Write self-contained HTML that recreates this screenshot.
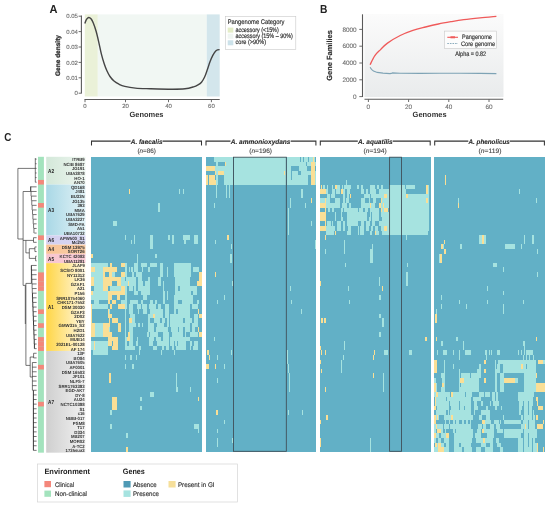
<!DOCTYPE html>
<html><head><meta charset="utf-8"><title>Pangenome figure</title>
<style>
html,body{margin:0;padding:0;background:#fff;}
#fig{width:550px;height:506px;overflow:hidden;position:relative;}
svg{display:block;font-family:'Liberation Sans', Arial, sans-serif;text-rendering:geometricPrecision;}
</style></head>
<body><div id="fig">
<svg width="550" height="506" viewBox="0 0 550 506">
<rect width="550" height="506" fill="#fff"/>
<text x="49.60" y="12.90" font-size="11.6" fill="#222" font-weight="bold" textLength="8.00" lengthAdjust="spacingAndGlyphs">A</text>
<rect x="84.8" y="14.4" width="13" height="82.1" fill="#eaf1d8"/>
<rect x="97.8" y="14.4" width="109" height="82.1" fill="#f1f7f3"/>
<rect x="206.8" y="14.4" width="12.9" height="82.1" fill="#d3e6ec"/>
<line x1="81.4" y1="15.6" x2="81.4" y2="93.6" stroke="#5a5a5a" stroke-width="1.1"/>
<line x1="78.6" y1="16.2" x2="81.4" y2="16.2" stroke="#5a5a5a" stroke-width="0.9"/>
<text x="77.90" y="18.30" font-size="6.0" fill="#6a6a6a" stroke="#6a6a6a" stroke-width="0.1" text-anchor="end">0.05</text>
<line x1="78.6" y1="31.6" x2="81.4" y2="31.6" stroke="#5a5a5a" stroke-width="0.9"/>
<text x="77.90" y="33.70" font-size="6.0" fill="#6a6a6a" stroke="#6a6a6a" stroke-width="0.1" text-anchor="end">0.04</text>
<line x1="78.6" y1="47.0" x2="81.4" y2="47.0" stroke="#5a5a5a" stroke-width="0.9"/>
<text x="77.90" y="49.10" font-size="6.0" fill="#6a6a6a" stroke="#6a6a6a" stroke-width="0.1" text-anchor="end">0.03</text>
<line x1="78.6" y1="62.4" x2="81.4" y2="62.4" stroke="#5a5a5a" stroke-width="0.9"/>
<text x="77.90" y="64.50" font-size="6.0" fill="#6a6a6a" stroke="#6a6a6a" stroke-width="0.1" text-anchor="end">0.02</text>
<line x1="78.6" y1="77.8" x2="81.4" y2="77.8" stroke="#5a5a5a" stroke-width="0.9"/>
<text x="77.90" y="79.90" font-size="6.0" fill="#6a6a6a" stroke="#6a6a6a" stroke-width="0.1" text-anchor="end">0.01</text>
<line x1="78.6" y1="93.2" x2="81.4" y2="93.2" stroke="#5a5a5a" stroke-width="0.9"/>
<text x="77.90" y="95.30" font-size="6.0" fill="#6a6a6a" stroke="#6a6a6a" stroke-width="0.1" text-anchor="end">0</text>
<line x1="84.5" y1="99.5" x2="219.7" y2="99.5" stroke="#5a5a5a" stroke-width="1.1"/>
<line x1="85" y1="99.5" x2="85" y2="102.2" stroke="#5a5a5a" stroke-width="0.9"/>
<text x="85.00" y="108.40" font-size="6.0" fill="#6a6a6a" stroke="#6a6a6a" stroke-width="0.1" text-anchor="middle">0</text>
<line x1="125.5" y1="99.5" x2="125.5" y2="102.2" stroke="#5a5a5a" stroke-width="0.9"/>
<text x="125.50" y="108.40" font-size="6.0" fill="#6a6a6a" stroke="#6a6a6a" stroke-width="0.1" text-anchor="middle">20</text>
<line x1="168.5" y1="99.5" x2="168.5" y2="102.2" stroke="#5a5a5a" stroke-width="0.9"/>
<text x="168.50" y="108.40" font-size="6.0" fill="#6a6a6a" stroke="#6a6a6a" stroke-width="0.1" text-anchor="middle">40</text>
<line x1="211.4" y1="99.5" x2="211.4" y2="102.2" stroke="#5a5a5a" stroke-width="0.9"/>
<text x="211.40" y="108.40" font-size="6.0" fill="#6a6a6a" stroke="#6a6a6a" stroke-width="0.1" text-anchor="middle">60</text>
<text x="146.50" y="117.30" font-size="7.5" fill="#333" text-anchor="middle" font-weight="bold" textLength="34.00" lengthAdjust="spacingAndGlyphs">Genomes</text>
<text x="0" y="0" font-size="6.6" font-weight="bold" fill="#2a2a2a" stroke="#2a2a2a" stroke-width="0.25" text-anchor="middle" textLength="41" lengthAdjust="spacingAndGlyphs" transform="translate(59.6 55.5) rotate(-90)">Gene density</text>
<path d="M84.80,23.60 C85.08,22.90 85.85,20.42 86.50,19.40 C87.15,18.38 87.95,17.60 88.70,17.50 C89.45,17.40 90.23,17.88 91.00,18.80 C91.77,19.72 92.45,20.92 93.30,23.00 C94.15,25.08 95.18,28.08 96.10,31.30 C97.02,34.52 97.92,38.48 98.80,42.30 C99.68,46.12 100.50,50.62 101.40,54.20 C102.30,57.78 103.28,61.03 104.20,63.80 C105.12,66.57 105.93,68.68 106.90,70.80 C107.87,72.92 108.82,74.80 110.00,76.50 C111.18,78.20 112.50,79.72 114.00,81.00 C115.50,82.28 117.20,83.30 119.00,84.20 C120.80,85.10 122.07,85.75 124.80,86.40 C127.53,87.05 131.20,87.72 135.40,88.10 C139.60,88.48 143.95,88.52 150.00,88.70 C156.05,88.88 165.87,89.18 171.70,89.20 C177.53,89.22 181.37,89.18 185.00,88.80 C188.63,88.42 191.33,87.55 193.50,86.90 C195.67,86.25 196.67,85.68 198.00,84.90 C199.33,84.12 200.42,83.47 201.50,82.20 C202.58,80.93 203.53,79.37 204.50,77.30 C205.47,75.23 206.38,72.38 207.30,69.80 C208.22,67.22 209.08,64.20 210.00,61.80 C210.92,59.40 211.88,57.15 212.80,55.40 C213.72,53.65 214.70,52.22 215.50,51.30 C216.30,50.38 216.92,50.18 217.60,49.90 C218.28,49.62 219.27,49.65 219.60,49.60" fill="none" stroke="#454545" stroke-width="1.4"/>
<rect x="225.5" y="16.3" width="70.3" height="33.3" fill="#fff" stroke="#c8c8c8" stroke-width="0.6"/>
<text x="227.70" y="24.00" font-size="6.7" fill="#2a2a2a" stroke="#2a2a2a" stroke-width="0.16" textLength="56.70" lengthAdjust="spacingAndGlyphs">Pangenome Category</text>
<rect x="227.7" y="27.6" width="5.6" height="5" fill="#e4edc8"/>
<rect x="227.7" y="33.7" width="5.6" height="5" fill="#f0f6f2"/>
<rect x="227.7" y="40.3" width="5.6" height="5" fill="#cce2ea"/>
<text x="235.50" y="31.90" font-size="6.4" fill="#2a2a2a" stroke="#2a2a2a" stroke-width="0.16" textLength="43.20" lengthAdjust="spacingAndGlyphs">accessory (&lt;15%)</text>
<text x="235.50" y="38.10" font-size="6.4" fill="#2a2a2a" stroke="#2a2a2a" stroke-width="0.16" textLength="57.40" lengthAdjust="spacingAndGlyphs">accessory (15% – 90%)</text>
<text x="235.50" y="44.20" font-size="6.4" fill="#2a2a2a" stroke="#2a2a2a" stroke-width="0.16" textLength="30.50" lengthAdjust="spacingAndGlyphs">core (&gt;90%)</text>
<text x="320.10" y="13.20" font-size="11.6" fill="#222" font-weight="bold" textLength="7.40" lengthAdjust="spacingAndGlyphs">B</text>
<defs><linearGradient id="bg" x1="0" y1="0" x2="0" y2="1"><stop offset="0" stop-color="#fbfbfb"/><stop offset="1" stop-color="#e9ebec"/></linearGradient></defs>
<rect x="364.5" y="14" width="139" height="83" fill="url(#bg)"/>
<line x1="362.5" y1="14.3" x2="362.5" y2="97" stroke="#5a5a5a" stroke-width="1.1"/>
<line x1="359.3" y1="96.60" x2="362.5" y2="96.60" stroke="#5a5a5a" stroke-width="0.9"/>
<text x="356.60" y="98.80" font-size="6.4" fill="#6a6a6a" stroke="#6a6a6a" stroke-width="0.1" text-anchor="end">0</text>
<line x1="359.3" y1="79.80" x2="362.5" y2="79.80" stroke="#5a5a5a" stroke-width="0.9"/>
<text x="356.60" y="82.00" font-size="6.4" fill="#6a6a6a" stroke="#6a6a6a" stroke-width="0.1" text-anchor="end">2000</text>
<line x1="359.3" y1="63.00" x2="362.5" y2="63.00" stroke="#5a5a5a" stroke-width="0.9"/>
<text x="356.60" y="65.20" font-size="6.4" fill="#6a6a6a" stroke="#6a6a6a" stroke-width="0.1" text-anchor="end">4000</text>
<line x1="359.3" y1="46.20" x2="362.5" y2="46.20" stroke="#5a5a5a" stroke-width="0.9"/>
<text x="356.60" y="48.40" font-size="6.4" fill="#6a6a6a" stroke="#6a6a6a" stroke-width="0.1" text-anchor="end">6000</text>
<line x1="359.3" y1="29.40" x2="362.5" y2="29.40" stroke="#5a5a5a" stroke-width="0.9"/>
<text x="356.60" y="31.60" font-size="6.4" fill="#6a6a6a" stroke="#6a6a6a" stroke-width="0.1" text-anchor="end">8000</text>
<line x1="364.5" y1="99.3" x2="503.2" y2="99.3" stroke="#5a5a5a" stroke-width="1.1"/>
<line x1="368.40" y1="99.3" x2="368.40" y2="102" stroke="#5a5a5a" stroke-width="0.9"/>
<text x="368.40" y="108.70" font-size="6.4" fill="#6a6a6a" stroke="#6a6a6a" stroke-width="0.1" text-anchor="middle">0</text>
<line x1="408.60" y1="99.3" x2="408.60" y2="102" stroke="#5a5a5a" stroke-width="0.9"/>
<text x="408.60" y="108.70" font-size="6.4" fill="#6a6a6a" stroke="#6a6a6a" stroke-width="0.1" text-anchor="middle">20</text>
<line x1="448.80" y1="99.3" x2="448.80" y2="102" stroke="#5a5a5a" stroke-width="0.9"/>
<text x="448.80" y="108.70" font-size="6.4" fill="#6a6a6a" stroke="#6a6a6a" stroke-width="0.1" text-anchor="middle">40</text>
<line x1="489.00" y1="99.3" x2="489.00" y2="102" stroke="#5a5a5a" stroke-width="0.9"/>
<text x="489.00" y="108.70" font-size="6.4" fill="#6a6a6a" stroke="#6a6a6a" stroke-width="0.1" text-anchor="middle">60</text>
<text x="429.60" y="117.30" font-size="7.5" fill="#333" text-anchor="middle" font-weight="bold" textLength="34.00" lengthAdjust="spacingAndGlyphs">Genomes</text>
<text x="0" y="0" font-size="7.5" font-weight="bold" fill="#2a2a2a" stroke="#2a2a2a" stroke-width="0.15" text-anchor="middle" textLength="50.7" lengthAdjust="spacingAndGlyphs" transform="translate(332.3 55.5) rotate(-90)">Gene Families</text>
<path d="M370.10,64.70 C370.87,63.22 372.97,58.32 374.70,55.80 C376.43,53.28 378.37,51.72 380.50,49.60 C382.63,47.48 384.22,45.45 387.50,43.10 C390.78,40.75 395.97,37.62 400.20,35.50 C404.43,33.38 408.68,31.82 412.90,30.40 C417.12,28.98 421.25,28.07 425.50,27.00 C429.75,25.93 434.15,24.88 438.40,24.00 C442.65,23.12 446.77,22.42 451.00,21.70 C455.23,20.98 458.97,20.33 463.80,19.70 C468.63,19.07 474.57,18.45 480.00,17.90 C485.43,17.35 493.67,16.65 496.40,16.40" fill="none" stroke="#ef5a5a" stroke-width="1.3"/>
<polyline points="370.10,67.30 371.50,69.30 373.50,71.10 377.30,72.40 383.00,73.10 390.00,73.60 391.20,73.40 392.50,72.90 400.00,73.20 420.00,73.40 440.00,73.30 460.00,73.20 480.00,73.40 496.40,73.60" fill="none" stroke="#7ea3b5" stroke-width="1.1"/>
<rect x="444.5" y="31.1" width="51.9" height="17.4" fill="#fcfcfc" stroke="#c8c8c8" stroke-width="0.6"/>
<line x1="447.3" y1="37.3" x2="458" y2="37.3" stroke="#ef5a5a" stroke-width="1.1"/>
<line x1="450.5" y1="37.3" x2="455" y2="37.3" stroke="#ef5a5a" stroke-width="2"/>
<line x1="447.3" y1="43.5" x2="458" y2="43.5" stroke="#7ea3b5" stroke-width="0.9" stroke-dasharray="1.6 1"/>
<text x="462.00" y="39.40" font-size="6.4" fill="#333" stroke="#333" stroke-width="0.16" textLength="29.90" lengthAdjust="spacingAndGlyphs">Pangenome</text>
<text x="460.90" y="45.60" font-size="6.4" fill="#333" stroke="#333" stroke-width="0.16" textLength="34.30" lengthAdjust="spacingAndGlyphs">Core genome</text>
<text x="455.20" y="55.70" font-size="6.4" fill="#333" stroke="#333" stroke-width="0.16" textLength="31.00" lengthAdjust="spacingAndGlyphs">Alpha = 0.82</text>
<text x="4.30" y="140.50" font-size="11.6" fill="#222" font-weight="bold" textLength="7.10" lengthAdjust="spacingAndGlyphs">C</text>
<path d="M91.50,145.6 V141.1 H130.60 M162.70,141.1 H201.50 V145.6" fill="none" stroke="#333" stroke-width="1.05"/>
<text x="130.80" y="143.50" font-size="6.7" fill="#2a2a2a" stroke="#2a2a2a" stroke-width="0.12" font-weight="bold" font-style="italic" textLength="31.70" lengthAdjust="spacingAndGlyphs">A. faecalis</text>
<text x="137.40" y="152.8" font-size="6.5" fill="#444" stroke="#444" stroke-width="0.12" textLength="18.50" lengthAdjust="spacingAndGlyphs">(<tspan font-style="italic">n</tspan>=86)</text>
<path d="M206.00,145.6 V141.1 H230.50 M290.70,141.1 H315.90 V145.6" fill="none" stroke="#333" stroke-width="1.05"/>
<text x="230.70" y="143.50" font-size="6.7" fill="#2a2a2a" stroke="#2a2a2a" stroke-width="0.12" font-weight="bold" font-style="italic" textLength="59.80" lengthAdjust="spacingAndGlyphs">A. ammonioxydans</text>
<text x="249.30" y="152.8" font-size="6.5" fill="#444" stroke="#444" stroke-width="0.12" textLength="22.70" lengthAdjust="spacingAndGlyphs">(<tspan font-style="italic">n</tspan>=196)</text>
<path d="M320.30,145.6 V141.1 H357.80 M392.90,141.1 H430.20 V145.6" fill="none" stroke="#333" stroke-width="1.05"/>
<text x="358.00" y="143.50" font-size="6.7" fill="#2a2a2a" stroke="#2a2a2a" stroke-width="0.12" font-weight="bold" font-style="italic" textLength="34.70" lengthAdjust="spacingAndGlyphs">A. aquatilis</text>
<text x="363.50" y="152.8" font-size="6.5" fill="#444" stroke="#444" stroke-width="0.12" textLength="23.20" lengthAdjust="spacingAndGlyphs">(<tspan font-style="italic">n</tspan>=194)</text>
<path d="M434.70,145.6 V141.1 H468.30 M510.00,141.1 H544.40 V145.6" fill="none" stroke="#333" stroke-width="1.05"/>
<text x="468.50" y="143.50" font-size="6.7" fill="#2a2a2a" stroke="#2a2a2a" stroke-width="0.12" font-weight="bold" font-style="italic" textLength="41.30" lengthAdjust="spacingAndGlyphs">A. phenolicus</text>
<text x="478.60" y="152.8" font-size="6.5" fill="#444" stroke="#444" stroke-width="0.12" textLength="23.00" lengthAdjust="spacingAndGlyphs">(<tspan font-style="italic">n</tspan>=119)</text>
<g shape-rendering="crispEdges">
<rect x="91.1" y="156.9" width="110.80" height="294.91" fill="#62b0c6"/>
<rect x="205.6" y="156.9" width="110.70" height="294.91" fill="#62b0c6"/>
<rect x="319.9" y="156.9" width="110.70" height="294.91" fill="#62b0c6"/>
<rect x="434.3" y="156.9" width="110.50" height="294.91" fill="#62b0c6"/>
<rect x="128.94" y="189.16" width="1.01" height="4.61" fill="#fadf96"/>
<rect x="179.19" y="189.16" width="1.01" height="4.61" fill="#a6e3e0"/>
<rect x="183.23" y="189.16" width="1.21" height="4.61" fill="#a6e3e0"/>
<rect x="158.20" y="202.98" width="1.82" height="9.22" fill="#a6e3e0"/>
<rect x="113.20" y="221.41" width="4.04" height="4.61" fill="#a6e3e0"/>
<rect x="124.91" y="235.24" width="1.01" height="4.61" fill="#a6e3e0"/>
<rect x="168.30" y="235.24" width="1.41" height="4.61" fill="#a6e3e0"/>
<rect x="183.43" y="235.24" width="6.46" height="4.61" fill="#a6e3e0"/>
<rect x="133.99" y="235.24" width="1.01" height="9.22" fill="#a6e3e0"/>
<rect x="171.73" y="235.24" width="2.02" height="9.22" fill="#a6e3e0"/>
<rect x="193.93" y="235.24" width="4.04" height="9.22" fill="#a6e3e0"/>
<rect x="131.36" y="239.84" width="1.01" height="4.61" fill="#a6e3e0"/>
<rect x="184.44" y="239.84" width="1.41" height="4.61" fill="#a6e3e0"/>
<rect x="149.53" y="235.24" width="3.63" height="13.82" fill="#a6e3e0"/>
<rect x="91.10" y="253.67" width="1.51" height="4.61" fill="#fadf96"/>
<rect x="137.01" y="253.67" width="1.01" height="4.61" fill="#a6e3e0"/>
<rect x="155.18" y="253.67" width="1.41" height="4.61" fill="#a6e3e0"/>
<rect x="137.01" y="258.28" width="1.01" height="4.61" fill="#a6e3e0"/>
<rect x="93.02" y="350.44" width="15.14" height="4.61" fill="#a6e3e0"/>
<rect x="139.44" y="350.44" width="1.01" height="4.61" fill="#a6e3e0"/>
<rect x="160.63" y="350.44" width="1.01" height="4.61" fill="#a6e3e0"/>
<rect x="173.74" y="350.44" width="1.01" height="4.61" fill="#a6e3e0"/>
<rect x="124.91" y="355.04" width="1.41" height="4.61" fill="#a6e3e0"/>
<rect x="130.35" y="355.04" width="1.41" height="4.61" fill="#a6e3e0"/>
<rect x="135.80" y="355.04" width="1.21" height="4.61" fill="#a6e3e0"/>
<rect x="124.91" y="364.26" width="1.41" height="4.61" fill="#a6e3e0"/>
<rect x="132.37" y="364.26" width="1.41" height="4.61" fill="#a6e3e0"/>
<rect x="109.16" y="373.48" width="1.41" height="9.22" fill="#fadf96"/>
<rect x="175.76" y="373.48" width="1.61" height="13.82" fill="#a6e3e0"/>
<rect x="175.76" y="387.30" width="2.42" height="4.61" fill="#a6e3e0"/>
<rect x="189.89" y="387.30" width="1.21" height="4.61" fill="#a6e3e0"/>
<rect x="149.93" y="391.91" width="3.63" height="4.61" fill="#a6e3e0"/>
<rect x="112.19" y="396.52" width="5.05" height="13.82" fill="#fadf96"/>
<rect x="140.45" y="396.52" width="1.41" height="4.61" fill="#a6e3e0"/>
<rect x="197.56" y="396.52" width="1.41" height="4.61" fill="#fadf96"/>
<rect x="140.45" y="405.73" width="1.41" height="4.61" fill="#a6e3e0"/>
<rect x="109.57" y="410.34" width="2.02" height="4.61" fill="#a6e3e0"/>
<rect x="109.57" y="424.16" width="2.02" height="4.61" fill="#a6e3e0"/>
<rect x="193.93" y="424.16" width="5.05" height="4.61" fill="#a6e3e0"/>
<rect x="197.56" y="428.77" width="1.41" height="4.61" fill="#a6e3e0"/>
<rect x="126.32" y="433.38" width="1.41" height="4.61" fill="#a6e3e0"/>
<rect x="126.32" y="447.20" width="1.41" height="4.61" fill="#fadf96"/>
<rect x="91.10" y="262.88" width="33.90" height="41.47" fill="#62b0c6"/>
<rect x="91.10" y="262.88" width="17.08" height="4.61" fill="#a6e3e0"/>
<rect x="109.55" y="262.88" width="2.27" height="4.61" fill="#fadf96"/>
<rect x="120.91" y="262.88" width="4.09" height="4.61" fill="#fadf96"/>
<rect x="91.10" y="267.49" width="3.45" height="4.61" fill="#fadf96"/>
<rect x="94.55" y="267.49" width="8.18" height="4.61" fill="#a6e3e0"/>
<rect x="102.73" y="267.49" width="14.55" height="4.61" fill="#fadf96"/>
<rect x="91.10" y="272.10" width="11.63" height="4.61" fill="#a6e3e0"/>
<rect x="102.73" y="272.10" width="2.27" height="4.61" fill="#fadf96"/>
<rect x="109.09" y="272.10" width="2.73" height="4.61" fill="#fadf96"/>
<rect x="111.82" y="272.10" width="2.73" height="4.61" fill="#a6e3e0"/>
<rect x="120.91" y="272.10" width="4.09" height="4.61" fill="#fadf96"/>
<rect x="91.10" y="276.71" width="2.54" height="4.61" fill="#fadf96"/>
<rect x="93.64" y="276.71" width="9.09" height="4.61" fill="#a6e3e0"/>
<rect x="102.73" y="276.71" width="18.18" height="4.61" fill="#fadf96"/>
<rect x="120.91" y="276.71" width="4.09" height="4.61" fill="#a6e3e0"/>
<rect x="91.10" y="281.32" width="2.54" height="4.61" fill="#fadf96"/>
<rect x="93.64" y="281.32" width="9.09" height="4.61" fill="#a6e3e0"/>
<rect x="102.73" y="281.32" width="9.09" height="4.61" fill="#fadf96"/>
<rect x="116.82" y="281.32" width="4.09" height="4.61" fill="#fadf96"/>
<rect x="120.91" y="281.32" width="4.09" height="4.61" fill="#a6e3e0"/>
<rect x="93.64" y="285.92" width="9.09" height="4.61" fill="#a6e3e0"/>
<rect x="102.73" y="285.92" width="5.45" height="4.61" fill="#fadf96"/>
<rect x="109.55" y="285.92" width="11.36" height="4.61" fill="#a6e3e0"/>
<rect x="120.91" y="285.92" width="4.09" height="4.61" fill="#fadf96"/>
<rect x="91.10" y="290.53" width="1.63" height="4.61" fill="#fadf96"/>
<rect x="92.73" y="290.53" width="15.45" height="4.61" fill="#a6e3e0"/>
<rect x="108.18" y="290.53" width="16.82" height="4.61" fill="#fadf96"/>
<rect x="91.10" y="295.14" width="17.08" height="4.61" fill="#a6e3e0"/>
<rect x="108.18" y="295.14" width="3.64" height="4.61" fill="#fadf96"/>
<rect x="116.82" y="295.14" width="3.18" height="4.61" fill="#fadf96"/>
<rect x="93.64" y="299.75" width="5.45" height="4.61" fill="#a6e3e0"/>
<rect x="108.18" y="299.75" width="1.36" height="4.61" fill="#fadf96"/>
<rect x="111.82" y="299.75" width="4.55" height="4.61" fill="#fadf96"/>
<rect x="120.91" y="299.75" width="4.09" height="4.61" fill="#a6e3e0"/>
<rect x="91.10" y="304.36" width="33.90" height="46.08" fill="#62b0c6"/>
<rect x="91.14" y="304.36" width="1.23" height="4.61" fill="#fadf96"/>
<rect x="92.37" y="304.36" width="15.65" height="4.61" fill="#a6e3e0"/>
<rect x="110.40" y="304.36" width="1.90" height="4.61" fill="#fadf96"/>
<rect x="117.51" y="304.36" width="7.50" height="4.61" fill="#fadf96"/>
<rect x="91.14" y="308.96" width="1.23" height="4.61" fill="#fadf96"/>
<rect x="108.03" y="308.96" width="0.95" height="4.61" fill="#fadf96"/>
<rect x="108.98" y="308.96" width="1.42" height="4.61" fill="#a6e3e0"/>
<rect x="91.14" y="313.57" width="1.23" height="4.61" fill="#fadf96"/>
<rect x="108.03" y="313.57" width="4.27" height="4.61" fill="#fadf96"/>
<rect x="91.14" y="318.18" width="1.23" height="4.61" fill="#fadf96"/>
<rect x="108.50" y="318.18" width="1.42" height="4.61" fill="#fadf96"/>
<rect x="111.82" y="318.18" width="5.69" height="4.61" fill="#fadf96"/>
<rect x="91.14" y="322.79" width="3.61" height="4.61" fill="#fadf96"/>
<rect x="94.74" y="322.79" width="8.54" height="4.61" fill="#a6e3e0"/>
<rect x="103.28" y="322.79" width="6.64" height="4.61" fill="#fadf96"/>
<rect x="117.51" y="322.79" width="3.32" height="4.61" fill="#fadf96"/>
<rect x="91.14" y="327.40" width="3.61" height="4.61" fill="#fadf96"/>
<rect x="94.74" y="327.40" width="8.54" height="4.61" fill="#a6e3e0"/>
<rect x="103.28" y="327.40" width="5.69" height="4.61" fill="#fadf96"/>
<rect x="108.98" y="327.40" width="1.42" height="4.61" fill="#a6e3e0"/>
<rect x="117.51" y="327.40" width="3.32" height="4.61" fill="#fadf96"/>
<rect x="91.14" y="332.00" width="3.61" height="4.61" fill="#fadf96"/>
<rect x="94.74" y="332.00" width="8.54" height="4.61" fill="#a6e3e0"/>
<rect x="103.28" y="332.00" width="8.54" height="4.61" fill="#fadf96"/>
<rect x="108.03" y="336.61" width="9.49" height="4.61" fill="#fadf96"/>
<rect x="91.14" y="341.22" width="2.66" height="4.61" fill="#a6e3e0"/>
<rect x="93.80" y="341.22" width="1.42" height="4.61" fill="#fadf96"/>
<rect x="95.22" y="341.22" width="12.81" height="4.61" fill="#a6e3e0"/>
<rect x="108.03" y="341.22" width="4.27" height="4.61" fill="#fadf96"/>
<rect x="112.77" y="341.22" width="4.74" height="4.61" fill="#fadf96"/>
<rect x="91.14" y="345.83" width="2.66" height="4.61" fill="#a6e3e0"/>
<rect x="93.80" y="345.83" width="1.42" height="4.61" fill="#fadf96"/>
<rect x="95.22" y="345.83" width="12.81" height="4.61" fill="#a6e3e0"/>
<rect x="111.82" y="345.83" width="5.69" height="4.61" fill="#fadf96"/>
<rect x="125.00" y="262.88" width="45.00" height="87.55" fill="#62b0c6"/>
<rect x="125.44" y="262.88" width="1.96" height="4.61" fill="#a6e3e0"/>
<rect x="133.78" y="262.88" width="3.93" height="4.61" fill="#a6e3e0"/>
<rect x="140.65" y="262.88" width="5.89" height="4.61" fill="#a6e3e0"/>
<rect x="149.98" y="262.88" width="7.36" height="4.61" fill="#a6e3e0"/>
<rect x="159.80" y="262.88" width="2.95" height="4.61" fill="#a6e3e0"/>
<rect x="125.44" y="267.49" width="1.96" height="4.61" fill="#a6e3e0"/>
<rect x="128.87" y="267.49" width="0.98" height="4.61" fill="#a6e3e0"/>
<rect x="131.33" y="267.49" width="1.47" height="4.61" fill="#a6e3e0"/>
<rect x="133.78" y="267.49" width="3.93" height="4.61" fill="#a6e3e0"/>
<rect x="142.13" y="267.49" width="0.98" height="4.61" fill="#a6e3e0"/>
<rect x="148.02" y="267.49" width="1.96" height="4.61" fill="#a6e3e0"/>
<rect x="159.80" y="267.49" width="2.95" height="4.61" fill="#a6e3e0"/>
<rect x="166.67" y="267.49" width="1.47" height="4.61" fill="#a6e3e0"/>
<rect x="125.44" y="272.10" width="1.96" height="4.61" fill="#a6e3e0"/>
<rect x="131.82" y="272.10" width="1.96" height="4.61" fill="#a6e3e0"/>
<rect x="135.75" y="272.10" width="5.89" height="4.61" fill="#a6e3e0"/>
<rect x="160.29" y="272.10" width="2.45" height="4.61" fill="#a6e3e0"/>
<rect x="166.67" y="272.10" width="1.47" height="4.61" fill="#a6e3e0"/>
<rect x="126.42" y="276.71" width="9.33" height="4.61" fill="#a6e3e0"/>
<rect x="138.20" y="276.71" width="3.44" height="4.61" fill="#a6e3e0"/>
<rect x="148.02" y="276.71" width="1.96" height="4.61" fill="#a6e3e0"/>
<rect x="157.84" y="276.71" width="3.44" height="4.61" fill="#a6e3e0"/>
<rect x="124.95" y="281.32" width="2.95" height="4.61" fill="#a6e3e0"/>
<rect x="127.89" y="281.32" width="0.98" height="4.61" fill="#fadf96"/>
<rect x="129.36" y="281.32" width="6.38" height="4.61" fill="#a6e3e0"/>
<rect x="138.20" y="281.32" width="4.42" height="4.61" fill="#a6e3e0"/>
<rect x="144.58" y="281.32" width="5.40" height="4.61" fill="#a6e3e0"/>
<rect x="158.33" y="281.32" width="2.95" height="4.61" fill="#a6e3e0"/>
<rect x="162.75" y="281.32" width="1.47" height="4.61" fill="#a6e3e0"/>
<rect x="125.44" y="285.92" width="1.96" height="4.61" fill="#a6e3e0"/>
<rect x="128.87" y="285.92" width="3.93" height="4.61" fill="#a6e3e0"/>
<rect x="133.78" y="285.92" width="1.96" height="4.61" fill="#a6e3e0"/>
<rect x="138.20" y="285.92" width="11.78" height="4.61" fill="#a6e3e0"/>
<rect x="162.75" y="285.92" width="1.47" height="4.61" fill="#a6e3e0"/>
<rect x="125.44" y="290.53" width="1.96" height="4.61" fill="#a6e3e0"/>
<rect x="133.78" y="290.53" width="3.93" height="4.61" fill="#a6e3e0"/>
<rect x="140.65" y="290.53" width="9.33" height="4.61" fill="#a6e3e0"/>
<rect x="162.75" y="290.53" width="2.45" height="4.61" fill="#a6e3e0"/>
<rect x="166.67" y="290.53" width="1.47" height="4.61" fill="#a6e3e0"/>
<rect x="125.44" y="295.14" width="1.96" height="4.61" fill="#a6e3e0"/>
<rect x="143.11" y="295.14" width="3.44" height="4.61" fill="#a6e3e0"/>
<rect x="163.24" y="295.14" width="1.96" height="4.61" fill="#a6e3e0"/>
<rect x="166.67" y="295.14" width="0.98" height="4.61" fill="#a6e3e0"/>
<rect x="125.44" y="299.75" width="1.96" height="4.61" fill="#a6e3e0"/>
<rect x="129.85" y="299.75" width="7.85" height="4.61" fill="#a6e3e0"/>
<rect x="140.65" y="299.75" width="1.96" height="4.61" fill="#a6e3e0"/>
<rect x="150.47" y="299.75" width="2.95" height="4.61" fill="#a6e3e0"/>
<rect x="155.38" y="299.75" width="1.96" height="4.61" fill="#a6e3e0"/>
<rect x="163.24" y="299.75" width="1.96" height="4.61" fill="#a6e3e0"/>
<rect x="125.44" y="304.36" width="1.96" height="4.61" fill="#a6e3e0"/>
<rect x="129.36" y="304.36" width="3.44" height="4.61" fill="#a6e3e0"/>
<rect x="136.73" y="304.36" width="3.93" height="4.61" fill="#a6e3e0"/>
<rect x="142.13" y="304.36" width="4.42" height="4.61" fill="#a6e3e0"/>
<rect x="149.49" y="304.36" width="6.87" height="4.61" fill="#a6e3e0"/>
<rect x="158.33" y="304.36" width="2.95" height="4.61" fill="#a6e3e0"/>
<rect x="165.20" y="304.36" width="3.93" height="4.61" fill="#a6e3e0"/>
<rect x="124.95" y="308.96" width="1.47" height="4.61" fill="#a6e3e0"/>
<rect x="128.87" y="308.96" width="3.93" height="4.61" fill="#a6e3e0"/>
<rect x="137.71" y="308.96" width="1.47" height="4.61" fill="#a6e3e0"/>
<rect x="142.62" y="308.96" width="3.93" height="4.61" fill="#a6e3e0"/>
<rect x="149.98" y="308.96" width="13.25" height="4.61" fill="#a6e3e0"/>
<rect x="165.20" y="308.96" width="3.93" height="4.61" fill="#a6e3e0"/>
<rect x="124.95" y="313.57" width="1.47" height="4.61" fill="#a6e3e0"/>
<rect x="129.85" y="313.57" width="4.91" height="4.61" fill="#a6e3e0"/>
<rect x="148.02" y="313.57" width="5.40" height="4.61" fill="#a6e3e0"/>
<rect x="153.42" y="313.57" width="1.47" height="4.61" fill="#fadf96"/>
<rect x="154.89" y="313.57" width="8.35" height="4.61" fill="#a6e3e0"/>
<rect x="165.20" y="313.57" width="3.93" height="4.61" fill="#a6e3e0"/>
<rect x="124.95" y="318.18" width="1.47" height="4.61" fill="#a6e3e0"/>
<rect x="129.36" y="318.18" width="2.45" height="4.61" fill="#fadf96"/>
<rect x="131.82" y="318.18" width="2.95" height="4.61" fill="#a6e3e0"/>
<rect x="148.02" y="318.18" width="2.45" height="4.61" fill="#a6e3e0"/>
<rect x="154.40" y="318.18" width="5.89" height="4.61" fill="#a6e3e0"/>
<rect x="162.26" y="318.18" width="2.95" height="4.61" fill="#a6e3e0"/>
<rect x="167.16" y="318.18" width="1.96" height="4.61" fill="#a6e3e0"/>
<rect x="124.95" y="322.79" width="1.47" height="4.61" fill="#a6e3e0"/>
<rect x="128.87" y="322.79" width="6.87" height="4.61" fill="#a6e3e0"/>
<rect x="137.71" y="322.79" width="1.96" height="4.61" fill="#a6e3e0"/>
<rect x="141.64" y="322.79" width="1.47" height="4.61" fill="#a6e3e0"/>
<rect x="148.02" y="322.79" width="6.38" height="4.61" fill="#a6e3e0"/>
<rect x="157.35" y="322.79" width="6.87" height="4.61" fill="#a6e3e0"/>
<rect x="167.16" y="322.79" width="1.96" height="4.61" fill="#a6e3e0"/>
<rect x="124.95" y="327.40" width="1.47" height="4.61" fill="#a6e3e0"/>
<rect x="128.87" y="327.40" width="3.93" height="4.61" fill="#a6e3e0"/>
<rect x="148.02" y="327.40" width="6.38" height="4.61" fill="#a6e3e0"/>
<rect x="156.36" y="327.40" width="11.78" height="4.61" fill="#a6e3e0"/>
<rect x="124.95" y="332.00" width="1.47" height="4.61" fill="#a6e3e0"/>
<rect x="128.38" y="332.00" width="1.47" height="4.61" fill="#fadf96"/>
<rect x="129.85" y="332.00" width="2.95" height="4.61" fill="#a6e3e0"/>
<rect x="146.55" y="332.00" width="2.45" height="4.61" fill="#a6e3e0"/>
<rect x="150.47" y="332.00" width="7.85" height="4.61" fill="#a6e3e0"/>
<rect x="163.24" y="332.00" width="5.89" height="4.61" fill="#a6e3e0"/>
<rect x="124.95" y="336.61" width="2.45" height="4.61" fill="#a6e3e0"/>
<rect x="127.40" y="336.61" width="2.45" height="4.61" fill="#fadf96"/>
<rect x="129.85" y="336.61" width="2.95" height="4.61" fill="#a6e3e0"/>
<rect x="136.73" y="336.61" width="0.98" height="4.61" fill="#a6e3e0"/>
<rect x="149.49" y="336.61" width="4.91" height="4.61" fill="#a6e3e0"/>
<rect x="156.36" y="336.61" width="4.91" height="4.61" fill="#a6e3e0"/>
<rect x="163.24" y="336.61" width="5.89" height="4.61" fill="#a6e3e0"/>
<rect x="124.95" y="341.22" width="1.96" height="4.61" fill="#a6e3e0"/>
<rect x="128.87" y="341.22" width="3.93" height="4.61" fill="#a6e3e0"/>
<rect x="135.75" y="341.22" width="1.96" height="4.61" fill="#a6e3e0"/>
<rect x="148.51" y="341.22" width="4.91" height="4.61" fill="#a6e3e0"/>
<rect x="157.35" y="341.22" width="11.78" height="4.61" fill="#a6e3e0"/>
<rect x="124.95" y="345.83" width="10.31" height="4.61" fill="#a6e3e0"/>
<rect x="138.69" y="345.83" width="1.96" height="4.61" fill="#a6e3e0"/>
<rect x="153.42" y="345.83" width="3.93" height="4.61" fill="#a6e3e0"/>
<rect x="162.26" y="345.83" width="1.96" height="4.61" fill="#a6e3e0"/>
<rect x="166.18" y="345.83" width="2.95" height="4.61" fill="#a6e3e0"/>
<rect x="170.00" y="262.88" width="31.90" height="87.55" fill="#62b0c6"/>
<rect x="174.09" y="262.88" width="17.27" height="4.61" fill="#a6e3e0"/>
<rect x="174.09" y="267.49" width="17.27" height="4.61" fill="#a6e3e0"/>
<rect x="192.73" y="267.49" width="6.36" height="4.61" fill="#a6e3e0"/>
<rect x="174.09" y="272.10" width="16.82" height="4.61" fill="#a6e3e0"/>
<rect x="199.09" y="272.10" width="2.73" height="4.61" fill="#fadf96"/>
<rect x="175.45" y="276.71" width="14.55" height="4.61" fill="#a6e3e0"/>
<rect x="199.09" y="276.71" width="2.73" height="4.61" fill="#fadf96"/>
<rect x="175.45" y="281.32" width="14.55" height="4.61" fill="#a6e3e0"/>
<rect x="197.27" y="281.32" width="4.55" height="4.61" fill="#fadf96"/>
<rect x="174.55" y="285.92" width="3.64" height="4.61" fill="#a6e3e0"/>
<rect x="179.55" y="285.92" width="17.73" height="4.61" fill="#a6e3e0"/>
<rect x="174.55" y="290.53" width="16.36" height="4.61" fill="#a6e3e0"/>
<rect x="192.73" y="290.53" width="4.55" height="4.61" fill="#a6e3e0"/>
<rect x="174.09" y="295.14" width="18.64" height="4.61" fill="#a6e3e0"/>
<rect x="174.09" y="299.75" width="4.09" height="4.61" fill="#a6e3e0"/>
<rect x="181.82" y="299.75" width="10.91" height="4.61" fill="#a6e3e0"/>
<rect x="197.27" y="299.75" width="1.82" height="4.61" fill="#a6e3e0"/>
<rect x="173.80" y="304.36" width="16.60" height="4.61" fill="#a6e3e0"/>
<rect x="191.82" y="304.36" width="5.69" height="4.61" fill="#a6e3e0"/>
<rect x="173.80" y="308.96" width="1.90" height="4.61" fill="#a6e3e0"/>
<rect x="178.06" y="308.96" width="12.33" height="4.61" fill="#a6e3e0"/>
<rect x="197.99" y="308.96" width="0.95" height="4.61" fill="#fadf96"/>
<rect x="170.00" y="313.57" width="20.40" height="4.61" fill="#a6e3e0"/>
<rect x="193.72" y="313.57" width="4.74" height="4.61" fill="#a6e3e0"/>
<rect x="198.94" y="313.57" width="2.85" height="4.61" fill="#fadf96"/>
<rect x="170.00" y="318.18" width="13.28" height="4.61" fill="#a6e3e0"/>
<rect x="185.18" y="318.18" width="6.64" height="4.61" fill="#a6e3e0"/>
<rect x="193.72" y="318.18" width="4.74" height="4.61" fill="#a6e3e0"/>
<rect x="170.00" y="322.79" width="19.92" height="4.61" fill="#a6e3e0"/>
<rect x="192.30" y="322.79" width="6.17" height="4.61" fill="#a6e3e0"/>
<rect x="170.95" y="327.40" width="7.12" height="4.61" fill="#a6e3e0"/>
<rect x="179.49" y="327.40" width="3.80" height="4.61" fill="#a6e3e0"/>
<rect x="185.18" y="327.40" width="4.74" height="4.61" fill="#a6e3e0"/>
<rect x="192.30" y="327.40" width="2.37" height="4.61" fill="#a6e3e0"/>
<rect x="197.99" y="327.40" width="0.95" height="4.61" fill="#fadf96"/>
<rect x="171.90" y="332.00" width="11.39" height="4.61" fill="#a6e3e0"/>
<rect x="185.18" y="332.00" width="0.95" height="4.61" fill="#a6e3e0"/>
<rect x="189.92" y="332.00" width="7.59" height="4.61" fill="#a6e3e0"/>
<rect x="198.94" y="332.00" width="2.85" height="4.61" fill="#fadf96"/>
<rect x="170.00" y="336.61" width="19.92" height="4.61" fill="#a6e3e0"/>
<rect x="197.51" y="336.61" width="0.95" height="4.61" fill="#a6e3e0"/>
<rect x="170.00" y="341.22" width="3.80" height="4.61" fill="#a6e3e0"/>
<rect x="175.22" y="341.22" width="1.42" height="4.61" fill="#a6e3e0"/>
<rect x="178.06" y="341.22" width="8.06" height="4.61" fill="#a6e3e0"/>
<rect x="190.40" y="341.22" width="1.42" height="4.61" fill="#a6e3e0"/>
<rect x="193.72" y="341.22" width="3.80" height="4.61" fill="#a6e3e0"/>
<rect x="171.90" y="345.83" width="1.90" height="4.61" fill="#a6e3e0"/>
<rect x="175.69" y="345.83" width="10.44" height="4.61" fill="#a6e3e0"/>
<rect x="189.92" y="345.83" width="0.95" height="4.61" fill="#a6e3e0"/>
<rect x="192.77" y="345.83" width="4.74" height="4.61" fill="#a6e3e0"/>
<rect x="233.50" y="156.90" width="52.80" height="27.65" fill="#a6e3e0"/>
<rect x="214.08" y="156.90" width="2.02" height="4.61" fill="#a6e3e0"/>
<rect x="216.10" y="156.90" width="17.14" height="4.61" fill="#a6e3e0"/>
<rect x="215.76" y="161.51" width="2.35" height="4.61" fill="#a6e3e0"/>
<rect x="224.50" y="161.51" width="1.68" height="4.61" fill="#fadf96"/>
<rect x="226.18" y="161.51" width="7.06" height="4.61" fill="#a6e3e0"/>
<rect x="205.68" y="166.12" width="9.41" height="4.61" fill="#fadf96"/>
<rect x="215.09" y="166.12" width="18.15" height="4.61" fill="#a6e3e0"/>
<rect x="214.75" y="170.72" width="1.01" height="4.61" fill="#fadf96"/>
<rect x="215.76" y="170.72" width="2.35" height="4.61" fill="#a6e3e0"/>
<rect x="218.11" y="170.72" width="6.05" height="4.61" fill="#fadf96"/>
<rect x="224.16" y="170.72" width="9.07" height="4.61" fill="#a6e3e0"/>
<rect x="205.68" y="175.33" width="2.35" height="4.61" fill="#fadf96"/>
<rect x="209.04" y="175.33" width="5.71" height="4.61" fill="#fadf96"/>
<rect x="216.43" y="175.33" width="1.68" height="4.61" fill="#a6e3e0"/>
<rect x="224.16" y="175.33" width="9.07" height="4.61" fill="#a6e3e0"/>
<rect x="205.68" y="179.94" width="2.35" height="4.61" fill="#fadf96"/>
<rect x="209.04" y="179.94" width="7.06" height="4.61" fill="#fadf96"/>
<rect x="216.10" y="179.94" width="2.02" height="4.61" fill="#a6e3e0"/>
<rect x="224.16" y="179.94" width="9.07" height="4.61" fill="#a6e3e0"/>
<rect x="286.69" y="156.90" width="28.90" height="27.65" fill="#a6e3e0"/>
<rect x="300.13" y="156.90" width="1.34" height="4.61" fill="#62b0c6"/>
<rect x="303.15" y="156.90" width="1.34" height="4.61" fill="#62b0c6"/>
<rect x="307.52" y="156.90" width="1.34" height="4.61" fill="#62b0c6"/>
<rect x="314.91" y="156.90" width="0.67" height="4.61" fill="#62b0c6"/>
<rect x="312.90" y="156.90" width="1.01" height="4.61" fill="#fadf96"/>
<rect x="305.84" y="161.51" width="1.34" height="4.61" fill="#62b0c6"/>
<rect x="310.88" y="161.51" width="4.03" height="4.61" fill="#fadf96"/>
<rect x="291.06" y="166.12" width="7.73" height="4.61" fill="#62b0c6"/>
<rect x="307.19" y="166.12" width="3.36" height="4.61" fill="#62b0c6"/>
<rect x="314.91" y="166.12" width="0.67" height="4.61" fill="#62b0c6"/>
<rect x="310.88" y="166.12" width="4.03" height="4.61" fill="#fadf96"/>
<rect x="290.72" y="170.72" width="1.68" height="4.61" fill="#62b0c6"/>
<rect x="298.11" y="170.72" width="3.02" height="4.61" fill="#62b0c6"/>
<rect x="310.88" y="170.72" width="4.03" height="4.61" fill="#fadf96"/>
<rect x="284.00" y="170.72" width="1.34" height="4.61" fill="#fadf96"/>
<rect x="290.72" y="175.33" width="1.01" height="4.61" fill="#62b0c6"/>
<rect x="308.19" y="175.33" width="2.35" height="4.61" fill="#62b0c6"/>
<rect x="310.88" y="175.33" width="4.03" height="4.61" fill="#fadf96"/>
<rect x="307.52" y="179.94" width="3.02" height="4.61" fill="#62b0c6"/>
<rect x="310.88" y="179.94" width="4.03" height="4.61" fill="#fadf96"/>
<rect x="216.10" y="184.55" width="1.01" height="13.82" fill="#a6e3e0"/>
<rect x="226.19" y="184.55" width="1.01" height="13.82" fill="#a6e3e0"/>
<rect x="229.22" y="184.55" width="1.01" height="13.82" fill="#a6e3e0"/>
<rect x="301.47" y="189.16" width="1.41" height="9.22" fill="#a6e3e0"/>
<rect x="289.76" y="198.37" width="1.01" height="4.61" fill="#a6e3e0"/>
<rect x="310.95" y="198.37" width="1.01" height="4.61" fill="#fadf96"/>
<rect x="214.08" y="202.98" width="1.01" height="4.61" fill="#a6e3e0"/>
<rect x="289.76" y="202.98" width="1.01" height="4.61" fill="#a6e3e0"/>
<rect x="305.30" y="202.98" width="1.01" height="4.61" fill="#a6e3e0"/>
<rect x="287.74" y="207.59" width="0.81" height="27.65" fill="#a6e3e0"/>
<rect x="310.95" y="221.41" width="1.01" height="4.61" fill="#a6e3e0"/>
<rect x="226.80" y="235.24" width="2.42" height="4.61" fill="#fadf96"/>
<rect x="215.49" y="239.84" width="0.81" height="4.61" fill="#a6e3e0"/>
<rect x="314.99" y="239.84" width="1.01" height="9.22" fill="#a6e3e0"/>
<rect x="231.24" y="244.45" width="0.81" height="4.61" fill="#a6e3e0"/>
<rect x="230.23" y="253.67" width="2.02" height="9.22" fill="#a6e3e0"/>
<rect x="205.60" y="272.10" width="0.41" height="9.22" fill="#fadf96"/>
<rect x="210.65" y="272.10" width="0.81" height="4.61" fill="#fadf96"/>
<rect x="214.69" y="272.10" width="0.81" height="4.61" fill="#fadf96"/>
<rect x="231.84" y="281.32" width="0.81" height="4.61" fill="#a6e3e0"/>
<rect x="289.76" y="285.92" width="1.01" height="4.61" fill="#a6e3e0"/>
<rect x="224.17" y="295.14" width="1.01" height="4.61" fill="#a6e3e0"/>
<rect x="217.11" y="299.75" width="1.01" height="4.61" fill="#a6e3e0"/>
<rect x="290.77" y="299.75" width="1.01" height="4.61" fill="#a6e3e0"/>
<rect x="301.47" y="308.96" width="0.81" height="4.61" fill="#a6e3e0"/>
<rect x="205.60" y="313.57" width="0.41" height="4.61" fill="#fadf96"/>
<rect x="210.65" y="336.61" width="0.81" height="4.61" fill="#fadf96"/>
<rect x="214.08" y="336.61" width="1.01" height="4.61" fill="#a6e3e0"/>
<rect x="207.02" y="350.44" width="2.42" height="4.61" fill="#fadf96"/>
<rect x="230.83" y="350.44" width="1.01" height="4.61" fill="#a6e3e0"/>
<rect x="209.44" y="355.04" width="0.81" height="4.61" fill="#fadf96"/>
<rect x="217.11" y="355.04" width="1.01" height="4.61" fill="#a6e3e0"/>
<rect x="287.34" y="350.44" width="0.81" height="13.82" fill="#a6e3e0"/>
<rect x="205.60" y="364.26" width="3.44" height="4.61" fill="#fadf96"/>
<rect x="215.09" y="364.26" width="1.01" height="4.61" fill="#fadf96"/>
<rect x="224.17" y="364.26" width="0.81" height="4.61" fill="#a6e3e0"/>
<rect x="287.74" y="364.26" width="1.01" height="9.22" fill="#a6e3e0"/>
<rect x="289.36" y="373.48" width="1.01" height="13.82" fill="#a6e3e0"/>
<rect x="216.71" y="378.08" width="0.81" height="4.61" fill="#a6e3e0"/>
<rect x="288.75" y="387.30" width="1.01" height="4.61" fill="#a6e3e0"/>
<rect x="205.60" y="391.91" width="0.41" height="4.61" fill="#fadf96"/>
<rect x="216.10" y="410.34" width="1.41" height="4.61" fill="#fadf96"/>
<rect x="287.74" y="410.34" width="1.01" height="4.61" fill="#a6e3e0"/>
<rect x="301.87" y="410.34" width="1.01" height="4.61" fill="#a6e3e0"/>
<rect x="224.17" y="419.56" width="1.01" height="4.61" fill="#a6e3e0"/>
<rect x="216.71" y="428.77" width="0.81" height="4.61" fill="#a6e3e0"/>
<rect x="216.71" y="437.99" width="1.01" height="9.22" fill="#a6e3e0"/>
<rect x="231.84" y="437.99" width="0.81" height="4.61" fill="#a6e3e0"/>
<rect x="389.40" y="184.55" width="12.20" height="50.69" fill="#a6e3e0"/>
<rect x="319.90" y="161.51" width="0.12" height="4.61" fill="#fadf96"/>
<rect x="346.08" y="179.94" width="0.81" height="4.61" fill="#a6e3e0"/>
<rect x="325.11" y="235.24" width="1.02" height="4.61" fill="#a6e3e0"/>
<rect x="405.54" y="235.24" width="1.02" height="4.61" fill="#a6e3e0"/>
<rect x="344.45" y="235.24" width="1.02" height="13.82" fill="#a6e3e0"/>
<rect x="371.94" y="244.45" width="1.02" height="4.61" fill="#a6e3e0"/>
<rect x="325.11" y="249.06" width="1.02" height="4.61" fill="#a6e3e0"/>
<rect x="343.84" y="249.06" width="1.02" height="4.61" fill="#a6e3e0"/>
<rect x="370.31" y="249.06" width="2.65" height="13.82" fill="#a6e3e0"/>
<rect x="344.86" y="262.88" width="1.22" height="4.61" fill="#a6e3e0"/>
<rect x="406.97" y="262.88" width="1.22" height="4.61" fill="#a6e3e0"/>
<rect x="405.54" y="272.10" width="2.04" height="13.82" fill="#a6e3e0"/>
<rect x="379.07" y="276.71" width="1.02" height="9.22" fill="#a6e3e0"/>
<rect x="319.90" y="281.32" width="1.14" height="4.61" fill="#fadf96"/>
<rect x="382.12" y="285.92" width="1.02" height="4.61" fill="#fadf96"/>
<rect x="347.91" y="285.92" width="1.02" height="4.61" fill="#a6e3e0"/>
<rect x="379.48" y="295.14" width="1.02" height="4.61" fill="#a6e3e0"/>
<rect x="348.53" y="299.75" width="1.02" height="4.61" fill="#a6e3e0"/>
<rect x="379.48" y="313.57" width="1.02" height="4.61" fill="#a6e3e0"/>
<rect x="320.63" y="318.18" width="2.44" height="4.61" fill="#fadf96"/>
<rect x="324.09" y="318.18" width="1.43" height="4.61" fill="#fadf96"/>
<rect x="382.12" y="318.18" width="1.63" height="9.22" fill="#a6e3e0"/>
<rect x="379.48" y="332.00" width="1.02" height="4.61" fill="#a6e3e0"/>
<rect x="425.29" y="336.61" width="1.22" height="4.61" fill="#fadf96"/>
<rect x="343.84" y="341.22" width="1.22" height="9.22" fill="#a6e3e0"/>
<rect x="320.02" y="345.83" width="1.02" height="4.61" fill="#fadf96"/>
<rect x="321.04" y="350.44" width="1.02" height="4.61" fill="#fadf96"/>
<rect x="325.11" y="350.44" width="1.02" height="4.61" fill="#fadf96"/>
<rect x="373.98" y="350.44" width="1.02" height="4.61" fill="#fadf96"/>
<rect x="384.16" y="350.44" width="3.67" height="4.61" fill="#a6e3e0"/>
<rect x="408.59" y="350.44" width="3.05" height="4.61" fill="#a6e3e0"/>
<rect x="372.96" y="355.04" width="1.02" height="4.61" fill="#fadf96"/>
<rect x="343.43" y="355.04" width="1.02" height="4.61" fill="#a6e3e0"/>
<rect x="320.02" y="359.65" width="1.02" height="4.61" fill="#fadf96"/>
<rect x="340.79" y="359.65" width="1.02" height="13.82" fill="#a6e3e0"/>
<rect x="321.04" y="368.87" width="1.02" height="4.61" fill="#fadf96"/>
<rect x="372.96" y="373.48" width="1.02" height="4.61" fill="#fadf96"/>
<rect x="383.14" y="373.48" width="1.02" height="13.82" fill="#a6e3e0"/>
<rect x="324.70" y="387.30" width="1.22" height="4.61" fill="#fadf96"/>
<rect x="383.14" y="387.30" width="1.02" height="4.61" fill="#a6e3e0"/>
<rect x="326.13" y="414.95" width="1.43" height="4.61" fill="#fadf96"/>
<rect x="320.02" y="419.56" width="1.02" height="4.61" fill="#fadf96"/>
<rect x="320.02" y="437.99" width="1.02" height="9.22" fill="#fadf96"/>
<rect x="369.91" y="437.99" width="1.02" height="13.82" fill="#a6e3e0"/>
<rect x="320.11" y="184.55" width="1.66" height="4.61" fill="#a6e3e0"/>
<rect x="323.43" y="184.55" width="1.66" height="4.61" fill="#a6e3e0"/>
<rect x="327.85" y="184.55" width="2.21" height="4.61" fill="#a6e3e0"/>
<rect x="332.28" y="184.55" width="2.21" height="4.61" fill="#a6e3e0"/>
<rect x="335.05" y="184.55" width="1.66" height="4.61" fill="#fadf96"/>
<rect x="337.26" y="184.55" width="3.87" height="4.61" fill="#a6e3e0"/>
<rect x="345.01" y="184.55" width="6.64" height="4.61" fill="#a6e3e0"/>
<rect x="357.18" y="184.55" width="1.66" height="4.61" fill="#a6e3e0"/>
<rect x="361.05" y="184.55" width="1.66" height="4.61" fill="#a6e3e0"/>
<rect x="370.46" y="184.55" width="1.66" height="4.61" fill="#a6e3e0"/>
<rect x="320.11" y="189.16" width="6.09" height="4.61" fill="#fadf96"/>
<rect x="326.19" y="189.16" width="3.87" height="4.61" fill="#a6e3e0"/>
<rect x="336.15" y="189.16" width="4.98" height="4.61" fill="#a6e3e0"/>
<rect x="341.69" y="189.16" width="2.21" height="4.61" fill="#fadf96"/>
<rect x="343.90" y="189.16" width="5.53" height="4.61" fill="#a6e3e0"/>
<rect x="358.84" y="189.16" width="2.21" height="4.61" fill="#a6e3e0"/>
<rect x="364.93" y="189.16" width="2.77" height="4.61" fill="#a6e3e0"/>
<rect x="369.91" y="189.16" width="5.09" height="4.61" fill="#a6e3e0"/>
<rect x="326.19" y="193.76" width="2.77" height="4.61" fill="#a6e3e0"/>
<rect x="331.17" y="193.76" width="3.32" height="4.61" fill="#a6e3e0"/>
<rect x="339.47" y="193.76" width="1.66" height="4.61" fill="#a6e3e0"/>
<rect x="343.90" y="193.76" width="3.87" height="4.61" fill="#a6e3e0"/>
<rect x="349.99" y="193.76" width="1.11" height="4.61" fill="#fadf96"/>
<rect x="351.09" y="193.76" width="1.11" height="4.61" fill="#a6e3e0"/>
<rect x="363.27" y="193.76" width="11.73" height="4.61" fill="#a6e3e0"/>
<rect x="320.11" y="198.37" width="3.87" height="4.61" fill="#a6e3e0"/>
<rect x="323.98" y="198.37" width="2.21" height="4.61" fill="#fadf96"/>
<rect x="326.19" y="198.37" width="2.77" height="4.61" fill="#a6e3e0"/>
<rect x="331.73" y="198.37" width="9.41" height="4.61" fill="#a6e3e0"/>
<rect x="344.45" y="198.37" width="2.21" height="4.61" fill="#a6e3e0"/>
<rect x="347.77" y="198.37" width="2.21" height="4.61" fill="#a6e3e0"/>
<rect x="365.48" y="198.37" width="2.21" height="4.61" fill="#a6e3e0"/>
<rect x="372.12" y="198.37" width="2.88" height="4.61" fill="#a6e3e0"/>
<rect x="320.11" y="202.98" width="6.09" height="4.61" fill="#fadf96"/>
<rect x="326.19" y="202.98" width="14.94" height="4.61" fill="#a6e3e0"/>
<rect x="343.90" y="202.98" width="2.77" height="4.61" fill="#a6e3e0"/>
<rect x="347.77" y="202.98" width="4.43" height="4.61" fill="#a6e3e0"/>
<rect x="363.27" y="202.98" width="6.64" height="4.61" fill="#a6e3e0"/>
<rect x="369.91" y="202.98" width="1.11" height="4.61" fill="#fadf96"/>
<rect x="371.01" y="202.98" width="3.98" height="4.61" fill="#a6e3e0"/>
<rect x="324.53" y="207.59" width="1.66" height="4.61" fill="#fadf96"/>
<rect x="326.19" y="207.59" width="1.66" height="4.61" fill="#a6e3e0"/>
<rect x="330.07" y="207.59" width="4.43" height="4.61" fill="#a6e3e0"/>
<rect x="341.13" y="207.59" width="1.66" height="4.61" fill="#a6e3e0"/>
<rect x="344.45" y="207.59" width="14.39" height="4.61" fill="#a6e3e0"/>
<rect x="362.16" y="207.59" width="4.43" height="4.61" fill="#a6e3e0"/>
<rect x="371.01" y="207.59" width="3.98" height="4.61" fill="#a6e3e0"/>
<rect x="320.11" y="212.20" width="6.09" height="4.61" fill="#fadf96"/>
<rect x="336.71" y="212.20" width="2.21" height="4.61" fill="#a6e3e0"/>
<rect x="342.79" y="212.20" width="1.66" height="4.61" fill="#a6e3e0"/>
<rect x="345.56" y="212.20" width="21.03" height="4.61" fill="#a6e3e0"/>
<rect x="371.01" y="212.20" width="2.21" height="4.61" fill="#a6e3e0"/>
<rect x="373.23" y="212.20" width="1.77" height="4.61" fill="#fadf96"/>
<rect x="320.11" y="216.80" width="6.09" height="4.61" fill="#fadf96"/>
<rect x="335.60" y="216.80" width="3.32" height="4.61" fill="#a6e3e0"/>
<rect x="345.56" y="216.80" width="21.03" height="4.61" fill="#a6e3e0"/>
<rect x="321.77" y="221.41" width="0.55" height="4.61" fill="#a6e3e0"/>
<rect x="324.53" y="221.41" width="1.66" height="4.61" fill="#fadf96"/>
<rect x="326.19" y="221.41" width="2.77" height="4.61" fill="#a6e3e0"/>
<rect x="333.39" y="221.41" width="4.43" height="4.61" fill="#a6e3e0"/>
<rect x="345.56" y="221.41" width="12.17" height="4.61" fill="#a6e3e0"/>
<rect x="361.05" y="221.41" width="3.32" height="4.61" fill="#a6e3e0"/>
<rect x="367.69" y="221.41" width="7.30" height="4.61" fill="#a6e3e0"/>
<rect x="320.11" y="226.02" width="6.09" height="4.61" fill="#fadf96"/>
<rect x="326.19" y="226.02" width="8.30" height="4.61" fill="#a6e3e0"/>
<rect x="346.67" y="226.02" width="5.53" height="4.61" fill="#a6e3e0"/>
<rect x="363.27" y="226.02" width="4.43" height="4.61" fill="#a6e3e0"/>
<rect x="326.19" y="230.63" width="8.30" height="4.61" fill="#a6e3e0"/>
<rect x="334.49" y="230.63" width="1.11" height="4.61" fill="#fadf96"/>
<rect x="347.77" y="230.63" width="2.21" height="4.61" fill="#a6e3e0"/>
<rect x="358.84" y="230.63" width="3.32" height="4.61" fill="#a6e3e0"/>
<rect x="371.01" y="230.63" width="1.11" height="4.61" fill="#a6e3e0"/>
<rect x="325.09" y="235.24" width="1.11" height="4.61" fill="#fadf96"/>
<rect x="343.90" y="235.24" width="1.66" height="4.61" fill="#a6e3e0"/>
<rect x="377.21" y="184.55" width="2.21" height="4.61" fill="#a6e3e0"/>
<rect x="380.53" y="184.55" width="2.21" height="4.61" fill="#a6e3e0"/>
<rect x="402.11" y="184.55" width="2.77" height="4.61" fill="#a6e3e0"/>
<rect x="405.99" y="184.55" width="8.85" height="4.61" fill="#a6e3e0"/>
<rect x="425.91" y="184.55" width="2.21" height="4.61" fill="#fadf96"/>
<rect x="428.12" y="184.55" width="2.48" height="4.61" fill="#a6e3e0"/>
<rect x="375.00" y="189.16" width="1.11" height="4.61" fill="#a6e3e0"/>
<rect x="379.43" y="189.16" width="9.41" height="4.61" fill="#a6e3e0"/>
<rect x="402.11" y="189.16" width="3.87" height="4.61" fill="#a6e3e0"/>
<rect x="425.91" y="189.16" width="2.21" height="4.61" fill="#fadf96"/>
<rect x="428.12" y="189.16" width="2.48" height="4.61" fill="#a6e3e0"/>
<rect x="375.00" y="193.76" width="8.85" height="4.61" fill="#a6e3e0"/>
<rect x="383.85" y="193.76" width="3.32" height="4.61" fill="#fadf96"/>
<rect x="387.17" y="193.76" width="1.66" height="4.61" fill="#a6e3e0"/>
<rect x="402.11" y="193.76" width="3.87" height="4.61" fill="#a6e3e0"/>
<rect x="405.99" y="193.76" width="2.21" height="4.61" fill="#fadf96"/>
<rect x="408.20" y="193.76" width="21.03" height="4.61" fill="#a6e3e0"/>
<rect x="429.23" y="193.76" width="1.37" height="4.61" fill="#fadf96"/>
<rect x="375.00" y="198.37" width="1.11" height="4.61" fill="#a6e3e0"/>
<rect x="380.53" y="198.37" width="1.66" height="4.61" fill="#fadf96"/>
<rect x="382.19" y="198.37" width="6.64" height="4.61" fill="#a6e3e0"/>
<rect x="402.11" y="198.37" width="23.79" height="4.61" fill="#a6e3e0"/>
<rect x="425.91" y="198.37" width="2.21" height="4.61" fill="#fadf96"/>
<rect x="428.12" y="198.37" width="2.48" height="4.61" fill="#a6e3e0"/>
<rect x="379.43" y="202.98" width="1.11" height="4.61" fill="#fadf96"/>
<rect x="380.53" y="202.98" width="2.77" height="4.61" fill="#a6e3e0"/>
<rect x="383.30" y="202.98" width="1.11" height="4.61" fill="#fadf96"/>
<rect x="384.41" y="202.98" width="4.43" height="4.61" fill="#a6e3e0"/>
<rect x="402.11" y="202.98" width="27.11" height="4.61" fill="#a6e3e0"/>
<rect x="429.23" y="202.98" width="1.37" height="4.61" fill="#fadf96"/>
<rect x="375.00" y="207.59" width="4.43" height="4.61" fill="#a6e3e0"/>
<rect x="380.53" y="207.59" width="1.66" height="4.61" fill="#fadf96"/>
<rect x="382.19" y="207.59" width="2.21" height="4.61" fill="#a6e3e0"/>
<rect x="384.41" y="207.59" width="3.87" height="4.61" fill="#fadf96"/>
<rect x="402.11" y="207.59" width="28.49" height="4.61" fill="#a6e3e0"/>
<rect x="375.00" y="212.20" width="3.87" height="4.61" fill="#a6e3e0"/>
<rect x="380.53" y="212.20" width="8.30" height="4.61" fill="#a6e3e0"/>
<rect x="402.11" y="212.20" width="28.49" height="4.61" fill="#a6e3e0"/>
<rect x="375.00" y="216.80" width="4.43" height="4.61" fill="#a6e3e0"/>
<rect x="381.64" y="216.80" width="7.19" height="4.61" fill="#a6e3e0"/>
<rect x="402.11" y="216.80" width="28.49" height="4.61" fill="#a6e3e0"/>
<rect x="379.43" y="221.41" width="9.41" height="4.61" fill="#a6e3e0"/>
<rect x="402.11" y="221.41" width="27.11" height="4.61" fill="#a6e3e0"/>
<rect x="429.23" y="221.41" width="1.37" height="4.61" fill="#fadf96"/>
<rect x="375.00" y="226.02" width="3.32" height="4.61" fill="#a6e3e0"/>
<rect x="380.53" y="226.02" width="3.32" height="4.61" fill="#a6e3e0"/>
<rect x="383.85" y="226.02" width="3.32" height="4.61" fill="#fadf96"/>
<rect x="387.17" y="226.02" width="1.66" height="4.61" fill="#a6e3e0"/>
<rect x="402.11" y="226.02" width="27.11" height="4.61" fill="#a6e3e0"/>
<rect x="429.23" y="226.02" width="1.37" height="4.61" fill="#fadf96"/>
<rect x="375.00" y="230.63" width="1.11" height="4.61" fill="#fadf96"/>
<rect x="376.11" y="230.63" width="3.32" height="4.61" fill="#a6e3e0"/>
<rect x="381.64" y="230.63" width="7.19" height="4.61" fill="#a6e3e0"/>
<rect x="402.11" y="230.63" width="26.01" height="4.61" fill="#a6e3e0"/>
<rect x="319.90" y="184.55" width="55.10" height="55.30" fill="#62b0c6"/>
<rect x="320.94" y="184.55" width="1.11" height="4.61" fill="#fadf96"/>
<rect x="323.43" y="184.55" width="1.11" height="4.61" fill="#a6e3e0"/>
<rect x="326.75" y="184.55" width="1.38" height="4.61" fill="#a6e3e0"/>
<rect x="331.73" y="184.55" width="1.66" height="4.61" fill="#a6e3e0"/>
<rect x="335.05" y="184.55" width="1.66" height="4.61" fill="#fadf96"/>
<rect x="336.71" y="184.55" width="3.32" height="4.61" fill="#a6e3e0"/>
<rect x="341.69" y="184.55" width="1.66" height="4.61" fill="#a6e3e0"/>
<rect x="344.46" y="184.55" width="2.55" height="4.61" fill="#a6e3e0"/>
<rect x="320.11" y="189.16" width="6.09" height="4.61" fill="#fadf96"/>
<rect x="326.19" y="189.16" width="1.66" height="4.61" fill="#a6e3e0"/>
<rect x="331.73" y="189.16" width="3.32" height="4.61" fill="#a6e3e0"/>
<rect x="336.16" y="189.16" width="3.87" height="4.61" fill="#a6e3e0"/>
<rect x="341.14" y="189.16" width="2.21" height="4.61" fill="#fadf96"/>
<rect x="343.35" y="189.16" width="1.66" height="4.61" fill="#a6e3e0"/>
<rect x="326.75" y="193.76" width="3.32" height="4.61" fill="#a6e3e0"/>
<rect x="331.17" y="193.76" width="3.87" height="4.61" fill="#a6e3e0"/>
<rect x="342.80" y="193.76" width="2.21" height="4.61" fill="#a6e3e0"/>
<rect x="320.11" y="198.37" width="4.98" height="4.61" fill="#a6e3e0"/>
<rect x="325.09" y="198.37" width="1.11" height="4.61" fill="#fadf96"/>
<rect x="326.19" y="198.37" width="3.87" height="4.61" fill="#a6e3e0"/>
<rect x="335.05" y="198.37" width="4.98" height="4.61" fill="#a6e3e0"/>
<rect x="342.80" y="198.37" width="2.21" height="4.61" fill="#a6e3e0"/>
<rect x="346.12" y="198.37" width="0.89" height="4.61" fill="#a6e3e0"/>
<rect x="320.11" y="202.98" width="5.53" height="4.61" fill="#fadf96"/>
<rect x="325.64" y="202.98" width="14.39" height="4.61" fill="#a6e3e0"/>
<rect x="342.24" y="202.98" width="4.76" height="4.61" fill="#a6e3e0"/>
<rect x="325.09" y="207.59" width="1.11" height="4.61" fill="#fadf96"/>
<rect x="327.85" y="207.59" width="1.66" height="4.61" fill="#a6e3e0"/>
<rect x="331.73" y="207.59" width="2.21" height="4.61" fill="#a6e3e0"/>
<rect x="341.14" y="207.59" width="1.66" height="4.61" fill="#a6e3e0"/>
<rect x="343.90" y="207.59" width="3.10" height="4.61" fill="#a6e3e0"/>
<rect x="320.11" y="212.20" width="5.53" height="4.61" fill="#fadf96"/>
<rect x="335.05" y="212.20" width="0.55" height="4.61" fill="#a6e3e0"/>
<rect x="341.14" y="212.20" width="1.11" height="4.61" fill="#a6e3e0"/>
<rect x="320.11" y="216.80" width="5.53" height="4.61" fill="#fadf96"/>
<rect x="335.05" y="216.80" width="0.55" height="4.61" fill="#a6e3e0"/>
<rect x="341.14" y="216.80" width="1.66" height="4.61" fill="#a6e3e0"/>
<rect x="321.77" y="221.41" width="0.55" height="4.61" fill="#fadf96"/>
<rect x="325.09" y="221.41" width="1.11" height="4.61" fill="#fadf96"/>
<rect x="327.30" y="221.41" width="3.32" height="4.61" fill="#a6e3e0"/>
<rect x="332.28" y="221.41" width="1.11" height="4.61" fill="#a6e3e0"/>
<rect x="336.71" y="221.41" width="4.43" height="4.61" fill="#a6e3e0"/>
<rect x="342.80" y="221.41" width="2.21" height="4.61" fill="#a6e3e0"/>
<rect x="320.11" y="226.02" width="5.53" height="4.61" fill="#fadf96"/>
<rect x="326.19" y="226.02" width="8.85" height="4.61" fill="#a6e3e0"/>
<rect x="336.71" y="226.02" width="4.43" height="4.61" fill="#a6e3e0"/>
<rect x="342.80" y="226.02" width="2.21" height="4.61" fill="#a6e3e0"/>
<rect x="326.19" y="230.63" width="8.30" height="4.61" fill="#a6e3e0"/>
<rect x="334.50" y="230.63" width="1.11" height="4.61" fill="#fadf96"/>
<rect x="325.09" y="235.24" width="1.11" height="4.61" fill="#fadf96"/>
<rect x="347.00" y="184.55" width="4.43" height="4.61" fill="#a6e3e0"/>
<rect x="356.96" y="184.55" width="2.21" height="4.61" fill="#a6e3e0"/>
<rect x="360.84" y="184.55" width="2.21" height="4.61" fill="#a6e3e0"/>
<rect x="369.69" y="184.55" width="5.31" height="4.61" fill="#a6e3e0"/>
<rect x="347.00" y="189.16" width="2.77" height="4.61" fill="#a6e3e0"/>
<rect x="360.84" y="189.16" width="2.77" height="4.61" fill="#a6e3e0"/>
<rect x="365.82" y="189.16" width="2.21" height="4.61" fill="#a6e3e0"/>
<rect x="370.24" y="189.16" width="4.76" height="4.61" fill="#a6e3e0"/>
<rect x="347.00" y="193.76" width="2.21" height="4.61" fill="#a6e3e0"/>
<rect x="349.77" y="193.76" width="1.66" height="4.61" fill="#fadf96"/>
<rect x="363.60" y="193.76" width="6.64" height="4.61" fill="#a6e3e0"/>
<rect x="371.35" y="193.76" width="3.65" height="4.61" fill="#a6e3e0"/>
<rect x="347.00" y="198.37" width="1.66" height="4.61" fill="#a6e3e0"/>
<rect x="360.84" y="198.37" width="4.43" height="4.61" fill="#a6e3e0"/>
<rect x="369.14" y="198.37" width="1.11" height="4.61" fill="#a6e3e0"/>
<rect x="373.01" y="198.37" width="1.99" height="4.61" fill="#a6e3e0"/>
<rect x="348.66" y="202.98" width="2.77" height="4.61" fill="#a6e3e0"/>
<rect x="360.84" y="202.98" width="9.41" height="4.61" fill="#a6e3e0"/>
<rect x="369.97" y="202.98" width="0.83" height="4.61" fill="#fadf96"/>
<rect x="370.80" y="202.98" width="4.21" height="4.61" fill="#a6e3e0"/>
<rect x="347.00" y="207.59" width="10.51" height="4.61" fill="#a6e3e0"/>
<rect x="359.17" y="207.59" width="3.87" height="4.61" fill="#a6e3e0"/>
<rect x="365.26" y="207.59" width="2.77" height="4.61" fill="#a6e3e0"/>
<rect x="370.24" y="207.59" width="4.76" height="4.61" fill="#a6e3e0"/>
<rect x="347.00" y="212.20" width="19.92" height="4.61" fill="#a6e3e0"/>
<rect x="370.24" y="212.20" width="1.11" height="4.61" fill="#a6e3e0"/>
<rect x="372.46" y="212.20" width="2.55" height="4.61" fill="#a6e3e0"/>
<rect x="347.00" y="216.80" width="19.92" height="4.61" fill="#a6e3e0"/>
<rect x="369.14" y="216.80" width="1.66" height="4.61" fill="#a6e3e0"/>
<rect x="372.46" y="216.80" width="2.55" height="4.61" fill="#a6e3e0"/>
<rect x="347.00" y="221.41" width="10.51" height="4.61" fill="#a6e3e0"/>
<rect x="360.84" y="221.41" width="3.32" height="4.61" fill="#a6e3e0"/>
<rect x="365.82" y="221.41" width="4.43" height="4.61" fill="#a6e3e0"/>
<rect x="372.46" y="221.41" width="2.55" height="4.61" fill="#a6e3e0"/>
<rect x="348.11" y="226.02" width="3.32" height="4.61" fill="#a6e3e0"/>
<rect x="357.51" y="226.02" width="1.66" height="4.61" fill="#a6e3e0"/>
<rect x="360.28" y="226.02" width="3.32" height="4.61" fill="#a6e3e0"/>
<rect x="365.82" y="226.02" width="3.32" height="4.61" fill="#a6e3e0"/>
<rect x="370.80" y="226.02" width="2.21" height="4.61" fill="#a6e3e0"/>
<rect x="347.00" y="230.63" width="4.43" height="4.61" fill="#a6e3e0"/>
<rect x="357.51" y="230.63" width="1.66" height="4.61" fill="#a6e3e0"/>
<rect x="360.28" y="230.63" width="3.32" height="4.61" fill="#a6e3e0"/>
<rect x="369.69" y="230.63" width="2.21" height="4.61" fill="#a6e3e0"/>
<rect x="429.30" y="184.55" width="1.30" height="50.69" fill="#62b0c6"/>
<rect x="445.22" y="175.33" width="1.22" height="9.22" fill="#fadf96"/>
<rect x="518.52" y="189.16" width="1.22" height="4.61" fill="#a6e3e0"/>
<rect x="535.83" y="198.37" width="1.43" height="4.61" fill="#a6e3e0"/>
<rect x="458.45" y="198.37" width="1.02" height="4.61" fill="#a6e3e0"/>
<rect x="458.45" y="202.98" width="1.02" height="4.61" fill="#fadf96"/>
<rect x="478.82" y="235.24" width="3.05" height="9.22" fill="#a6e3e0"/>
<rect x="481.87" y="235.24" width="2.04" height="9.22" fill="#fadf96"/>
<rect x="483.91" y="235.24" width="2.44" height="9.22" fill="#a6e3e0"/>
<rect x="523.61" y="235.24" width="1.43" height="9.22" fill="#a6e3e0"/>
<rect x="532.37" y="235.24" width="1.43" height="9.22" fill="#a6e3e0"/>
<rect x="444.20" y="239.84" width="1.02" height="4.61" fill="#fadf96"/>
<rect x="441.14" y="244.45" width="2.04" height="4.61" fill="#fadf96"/>
<rect x="443.18" y="244.45" width="1.02" height="4.61" fill="#a6e3e0"/>
<rect x="460.49" y="244.45" width="1.02" height="4.61" fill="#a6e3e0"/>
<rect x="505.29" y="244.45" width="10.18" height="4.61" fill="#a6e3e0"/>
<rect x="520.56" y="244.45" width="1.02" height="4.61" fill="#a6e3e0"/>
<rect x="444.20" y="249.06" width="1.43" height="4.61" fill="#fadf96"/>
<rect x="536.85" y="249.06" width="1.02" height="4.61" fill="#a6e3e0"/>
<rect x="439.11" y="253.67" width="1.02" height="9.22" fill="#a6e3e0"/>
<rect x="440.13" y="253.67" width="1.43" height="9.22" fill="#fadf96"/>
<rect x="493.07" y="262.88" width="4.07" height="4.61" fill="#a6e3e0"/>
<rect x="503.25" y="267.49" width="1.02" height="4.61" fill="#a6e3e0"/>
<rect x="536.85" y="272.10" width="1.02" height="4.61" fill="#a6e3e0"/>
<rect x="486.96" y="285.92" width="1.02" height="4.61" fill="#a6e3e0"/>
<rect x="503.25" y="290.53" width="1.02" height="4.61" fill="#a6e3e0"/>
<rect x="441.14" y="295.14" width="1.02" height="4.61" fill="#a6e3e0"/>
<rect x="459.47" y="299.75" width="1.02" height="4.61" fill="#a6e3e0"/>
<rect x="486.96" y="299.75" width="1.02" height="4.61" fill="#a6e3e0"/>
<rect x="522.59" y="299.75" width="1.02" height="4.61" fill="#a6e3e0"/>
<rect x="441.14" y="304.36" width="1.02" height="4.61" fill="#a6e3e0"/>
<rect x="465.58" y="304.36" width="1.02" height="4.61" fill="#a6e3e0"/>
<rect x="502.84" y="304.36" width="1.02" height="9.22" fill="#a6e3e0"/>
<rect x="436.05" y="308.96" width="1.02" height="4.61" fill="#a6e3e0"/>
<rect x="435.44" y="313.57" width="1.22" height="9.22" fill="#fadf96"/>
<rect x="436.05" y="336.61" width="1.02" height="4.61" fill="#fadf96"/>
<rect x="456.42" y="336.61" width="2.04" height="4.61" fill="#a6e3e0"/>
<rect x="535.83" y="336.61" width="1.43" height="4.61" fill="#fadf96"/>
<rect x="441.14" y="341.22" width="2.04" height="4.61" fill="#a6e3e0"/>
<rect x="462.53" y="341.22" width="1.02" height="4.61" fill="#a6e3e0"/>
<rect x="522.59" y="341.22" width="2.04" height="4.61" fill="#a6e3e0"/>
<rect x="462.53" y="345.83" width="1.02" height="4.61" fill="#a6e3e0"/>
<rect x="523.61" y="345.83" width="1.02" height="4.61" fill="#a6e3e0"/>
<rect x="437.35" y="350.44" width="1.09" height="4.61" fill="#a6e3e0"/>
<rect x="443.33" y="350.44" width="3.26" height="4.61" fill="#a6e3e0"/>
<rect x="453.12" y="350.44" width="1.09" height="4.61" fill="#a6e3e0"/>
<rect x="458.56" y="350.44" width="1.09" height="4.61" fill="#a6e3e0"/>
<rect x="465.09" y="350.44" width="5.44" height="4.61" fill="#a6e3e0"/>
<rect x="485.21" y="350.44" width="2.18" height="4.61" fill="#a6e3e0"/>
<rect x="458.56" y="355.04" width="1.09" height="4.61" fill="#a6e3e0"/>
<rect x="486.30" y="355.04" width="1.09" height="4.61" fill="#a6e3e0"/>
<rect x="434.31" y="359.65" width="2.50" height="4.61" fill="#fadf96"/>
<rect x="443.88" y="359.65" width="1.09" height="4.61" fill="#a6e3e0"/>
<rect x="484.13" y="359.65" width="1.63" height="4.61" fill="#fadf96"/>
<rect x="434.31" y="364.26" width="2.50" height="4.61" fill="#fadf96"/>
<rect x="443.88" y="364.26" width="1.09" height="4.61" fill="#a6e3e0"/>
<rect x="452.58" y="364.26" width="1.09" height="4.61" fill="#a6e3e0"/>
<rect x="478.69" y="364.26" width="2.18" height="4.61" fill="#a6e3e0"/>
<rect x="434.31" y="368.87" width="2.50" height="4.61" fill="#fadf96"/>
<rect x="443.88" y="368.87" width="1.09" height="4.61" fill="#a6e3e0"/>
<rect x="458.56" y="368.87" width="1.09" height="4.61" fill="#a6e3e0"/>
<rect x="476.51" y="368.87" width="4.35" height="4.61" fill="#a6e3e0"/>
<rect x="484.13" y="368.87" width="1.63" height="4.61" fill="#fadf96"/>
<rect x="440.61" y="373.48" width="4.35" height="4.61" fill="#a6e3e0"/>
<rect x="458.56" y="373.48" width="1.09" height="4.61" fill="#a6e3e0"/>
<rect x="460.74" y="373.48" width="9.25" height="4.61" fill="#a6e3e0"/>
<rect x="471.07" y="373.48" width="9.79" height="4.61" fill="#a6e3e0"/>
<rect x="434.31" y="378.08" width="1.41" height="4.61" fill="#a6e3e0"/>
<rect x="442.25" y="378.08" width="2.72" height="4.61" fill="#a6e3e0"/>
<rect x="458.56" y="378.08" width="1.63" height="4.61" fill="#a6e3e0"/>
<rect x="460.19" y="378.08" width="3.81" height="4.61" fill="#fadf96"/>
<rect x="464.00" y="378.08" width="14.69" height="4.61" fill="#a6e3e0"/>
<rect x="484.13" y="378.08" width="1.63" height="4.61" fill="#fadf96"/>
<rect x="434.31" y="382.69" width="1.41" height="4.61" fill="#fadf96"/>
<rect x="435.72" y="382.69" width="1.09" height="4.61" fill="#a6e3e0"/>
<rect x="441.70" y="382.69" width="2.18" height="4.61" fill="#fadf96"/>
<rect x="443.88" y="382.69" width="1.09" height="4.61" fill="#a6e3e0"/>
<rect x="458.56" y="382.69" width="1.63" height="4.61" fill="#a6e3e0"/>
<rect x="461.28" y="382.69" width="17.40" height="4.61" fill="#a6e3e0"/>
<rect x="434.31" y="387.30" width="1.41" height="4.61" fill="#fadf96"/>
<rect x="435.72" y="387.30" width="1.09" height="4.61" fill="#a6e3e0"/>
<rect x="440.61" y="387.30" width="4.35" height="4.61" fill="#a6e3e0"/>
<rect x="458.56" y="387.30" width="20.12" height="4.61" fill="#a6e3e0"/>
<rect x="434.31" y="391.91" width="1.96" height="4.61" fill="#a6e3e0"/>
<rect x="436.26" y="391.91" width="1.63" height="4.61" fill="#fadf96"/>
<rect x="437.90" y="391.91" width="12.51" height="4.61" fill="#a6e3e0"/>
<rect x="450.95" y="391.91" width="2.18" height="4.61" fill="#fadf96"/>
<rect x="453.12" y="391.91" width="11.42" height="4.61" fill="#a6e3e0"/>
<rect x="465.63" y="391.91" width="6.53" height="4.61" fill="#a6e3e0"/>
<rect x="478.69" y="391.91" width="5.44" height="4.61" fill="#a6e3e0"/>
<rect x="485.21" y="391.91" width="4.79" height="4.61" fill="#a6e3e0"/>
<rect x="434.31" y="396.52" width="1.41" height="4.61" fill="#a6e3e0"/>
<rect x="435.72" y="396.52" width="2.18" height="4.61" fill="#fadf96"/>
<rect x="437.90" y="396.52" width="8.16" height="4.61" fill="#a6e3e0"/>
<rect x="447.69" y="396.52" width="16.86" height="4.61" fill="#a6e3e0"/>
<rect x="465.63" y="396.52" width="6.53" height="4.61" fill="#a6e3e0"/>
<rect x="479.77" y="396.52" width="4.35" height="4.61" fill="#a6e3e0"/>
<rect x="487.39" y="396.52" width="2.61" height="4.61" fill="#a6e3e0"/>
<rect x="489.09" y="350.44" width="1.09" height="4.61" fill="#a6e3e0"/>
<rect x="490.72" y="350.44" width="1.09" height="4.61" fill="#a6e3e0"/>
<rect x="497.23" y="350.44" width="2.72" height="4.61" fill="#a6e3e0"/>
<rect x="517.87" y="350.44" width="1.09" height="4.61" fill="#a6e3e0"/>
<rect x="520.58" y="350.44" width="1.09" height="4.61" fill="#a6e3e0"/>
<rect x="523.84" y="350.44" width="1.09" height="4.61" fill="#a6e3e0"/>
<rect x="526.01" y="350.44" width="6.52" height="4.61" fill="#a6e3e0"/>
<rect x="522.76" y="355.04" width="1.09" height="4.61" fill="#a6e3e0"/>
<rect x="526.01" y="355.04" width="1.09" height="4.61" fill="#a6e3e0"/>
<rect x="529.27" y="355.04" width="1.09" height="4.61" fill="#a6e3e0"/>
<rect x="532.53" y="355.04" width="1.09" height="4.61" fill="#a6e3e0"/>
<rect x="494.52" y="359.65" width="1.09" height="4.61" fill="#a6e3e0"/>
<rect x="498.32" y="359.65" width="37.47" height="4.61" fill="#a6e3e0"/>
<rect x="537.96" y="359.65" width="4.89" height="4.61" fill="#fadf96"/>
<rect x="542.85" y="359.65" width="1.85" height="4.61" fill="#a6e3e0"/>
<rect x="494.52" y="364.26" width="1.09" height="4.61" fill="#a6e3e0"/>
<rect x="496.69" y="364.26" width="3.26" height="4.61" fill="#a6e3e0"/>
<rect x="502.66" y="364.26" width="17.92" height="4.61" fill="#a6e3e0"/>
<rect x="520.58" y="364.26" width="2.17" height="4.61" fill="#fadf96"/>
<rect x="522.76" y="364.26" width="3.26" height="4.61" fill="#a6e3e0"/>
<rect x="527.10" y="364.26" width="8.69" height="4.61" fill="#a6e3e0"/>
<rect x="494.52" y="368.87" width="5.43" height="4.61" fill="#a6e3e0"/>
<rect x="502.66" y="368.87" width="33.13" height="4.61" fill="#a6e3e0"/>
<rect x="494.52" y="373.48" width="2.17" height="4.61" fill="#a6e3e0"/>
<rect x="499.95" y="373.48" width="3.80" height="4.61" fill="#a6e3e0"/>
<rect x="523.84" y="373.48" width="11.95" height="4.61" fill="#a6e3e0"/>
<rect x="535.79" y="373.48" width="1.09" height="4.61" fill="#fadf96"/>
<rect x="494.52" y="378.08" width="2.17" height="4.61" fill="#a6e3e0"/>
<rect x="499.95" y="378.08" width="3.80" height="4.61" fill="#a6e3e0"/>
<rect x="503.75" y="378.08" width="11.40" height="4.61" fill="#fadf96"/>
<rect x="515.15" y="378.08" width="2.72" height="4.61" fill="#a6e3e0"/>
<rect x="523.84" y="378.08" width="11.95" height="4.61" fill="#a6e3e0"/>
<rect x="494.52" y="382.69" width="2.17" height="4.61" fill="#a6e3e0"/>
<rect x="499.95" y="382.69" width="3.80" height="4.61" fill="#a6e3e0"/>
<rect x="523.84" y="382.69" width="11.95" height="4.61" fill="#a6e3e0"/>
<rect x="535.79" y="382.69" width="8.91" height="4.61" fill="#fadf96"/>
<rect x="494.52" y="387.30" width="2.17" height="4.61" fill="#a6e3e0"/>
<rect x="499.95" y="387.30" width="3.80" height="4.61" fill="#a6e3e0"/>
<rect x="523.84" y="387.30" width="11.95" height="4.61" fill="#a6e3e0"/>
<rect x="535.79" y="387.30" width="8.91" height="4.61" fill="#fadf96"/>
<rect x="492.34" y="391.91" width="2.17" height="4.61" fill="#a6e3e0"/>
<rect x="495.60" y="391.91" width="2.17" height="4.61" fill="#a6e3e0"/>
<rect x="517.87" y="391.91" width="15.75" height="4.61" fill="#a6e3e0"/>
<rect x="492.34" y="396.52" width="2.17" height="4.61" fill="#a6e3e0"/>
<rect x="495.60" y="396.52" width="2.17" height="4.61" fill="#a6e3e0"/>
<rect x="517.87" y="396.52" width="14.66" height="4.61" fill="#a6e3e0"/>
<rect x="536.33" y="396.52" width="1.63" height="4.61" fill="#fadf96"/>
<rect x="434.57" y="401.12" width="1.05" height="4.61" fill="#fadf96"/>
<rect x="435.62" y="401.12" width="1.57" height="4.61" fill="#a6e3e0"/>
<rect x="437.19" y="401.12" width="1.57" height="4.61" fill="#fadf96"/>
<rect x="438.76" y="401.12" width="34.05" height="4.61" fill="#a6e3e0"/>
<rect x="474.91" y="401.12" width="2.10" height="4.61" fill="#a6e3e0"/>
<rect x="479.10" y="401.12" width="4.19" height="4.61" fill="#a6e3e0"/>
<rect x="434.57" y="405.73" width="1.05" height="4.61" fill="#fadf96"/>
<rect x="435.62" y="405.73" width="1.57" height="4.61" fill="#a6e3e0"/>
<rect x="438.76" y="405.73" width="9.95" height="4.61" fill="#a6e3e0"/>
<rect x="450.29" y="405.73" width="7.86" height="4.61" fill="#a6e3e0"/>
<rect x="460.24" y="405.73" width="11.53" height="4.61" fill="#a6e3e0"/>
<rect x="473.86" y="405.73" width="3.14" height="4.61" fill="#a6e3e0"/>
<rect x="479.10" y="405.73" width="2.10" height="4.61" fill="#a6e3e0"/>
<rect x="435.62" y="410.34" width="9.95" height="4.61" fill="#a6e3e0"/>
<rect x="447.67" y="410.34" width="10.48" height="4.61" fill="#a6e3e0"/>
<rect x="460.24" y="410.34" width="4.19" height="4.61" fill="#a6e3e0"/>
<rect x="465.48" y="410.34" width="7.33" height="4.61" fill="#a6e3e0"/>
<rect x="477.01" y="410.34" width="2.10" height="4.61" fill="#a6e3e0"/>
<rect x="434.57" y="414.95" width="1.05" height="4.61" fill="#fadf96"/>
<rect x="435.62" y="414.95" width="3.14" height="4.61" fill="#a6e3e0"/>
<rect x="444.00" y="414.95" width="6.81" height="4.61" fill="#a6e3e0"/>
<rect x="450.81" y="414.95" width="2.10" height="4.61" fill="#fadf96"/>
<rect x="452.91" y="414.95" width="18.86" height="4.61" fill="#a6e3e0"/>
<rect x="478.05" y="414.95" width="6.29" height="4.61" fill="#a6e3e0"/>
<rect x="434.57" y="419.56" width="1.05" height="4.61" fill="#fadf96"/>
<rect x="444.53" y="419.56" width="1.57" height="4.61" fill="#a6e3e0"/>
<rect x="448.72" y="419.56" width="1.57" height="4.61" fill="#a6e3e0"/>
<rect x="452.91" y="419.56" width="5.24" height="4.61" fill="#a6e3e0"/>
<rect x="462.34" y="419.56" width="2.10" height="4.61" fill="#a6e3e0"/>
<rect x="466.53" y="419.56" width="2.10" height="4.61" fill="#a6e3e0"/>
<rect x="470.72" y="419.56" width="2.10" height="4.61" fill="#a6e3e0"/>
<rect x="481.72" y="419.56" width="3.67" height="4.61" fill="#fadf96"/>
<rect x="485.39" y="419.56" width="4.61" height="4.61" fill="#a6e3e0"/>
<rect x="434.57" y="424.16" width="2.62" height="4.61" fill="#a6e3e0"/>
<rect x="437.19" y="424.16" width="1.57" height="4.61" fill="#fadf96"/>
<rect x="438.76" y="424.16" width="11.00" height="4.61" fill="#a6e3e0"/>
<rect x="452.91" y="424.16" width="17.81" height="4.61" fill="#a6e3e0"/>
<rect x="477.01" y="424.16" width="4.72" height="4.61" fill="#a6e3e0"/>
<rect x="482.25" y="424.16" width="2.10" height="4.61" fill="#fadf96"/>
<rect x="484.34" y="424.16" width="5.66" height="4.61" fill="#a6e3e0"/>
<rect x="434.57" y="428.77" width="2.62" height="4.61" fill="#a6e3e0"/>
<rect x="437.19" y="428.77" width="3.14" height="4.61" fill="#fadf96"/>
<rect x="440.33" y="428.77" width="5.24" height="4.61" fill="#a6e3e0"/>
<rect x="452.91" y="428.77" width="19.91" height="4.61" fill="#a6e3e0"/>
<rect x="477.01" y="428.77" width="4.19" height="4.61" fill="#a6e3e0"/>
<rect x="481.20" y="428.77" width="3.14" height="4.61" fill="#fadf96"/>
<rect x="484.34" y="428.77" width="5.66" height="4.61" fill="#a6e3e0"/>
<rect x="434.57" y="433.38" width="1.05" height="4.61" fill="#fadf96"/>
<rect x="435.62" y="433.38" width="3.67" height="4.61" fill="#a6e3e0"/>
<rect x="440.86" y="433.38" width="5.24" height="4.61" fill="#a6e3e0"/>
<rect x="446.10" y="433.38" width="2.62" height="4.61" fill="#fadf96"/>
<rect x="452.91" y="433.38" width="19.91" height="4.61" fill="#a6e3e0"/>
<rect x="477.01" y="433.38" width="4.19" height="4.61" fill="#a6e3e0"/>
<rect x="486.44" y="433.38" width="3.56" height="4.61" fill="#a6e3e0"/>
<rect x="434.57" y="437.99" width="4.72" height="4.61" fill="#a6e3e0"/>
<rect x="443.48" y="437.99" width="5.24" height="4.61" fill="#a6e3e0"/>
<rect x="452.91" y="437.99" width="20.96" height="4.61" fill="#a6e3e0"/>
<rect x="479.10" y="437.99" width="4.19" height="4.61" fill="#a6e3e0"/>
<rect x="483.29" y="437.99" width="2.10" height="4.61" fill="#fadf96"/>
<rect x="485.39" y="437.99" width="4.61" height="4.61" fill="#a6e3e0"/>
<rect x="434.57" y="442.60" width="1.57" height="4.61" fill="#fadf96"/>
<rect x="438.24" y="442.60" width="2.62" height="4.61" fill="#fadf96"/>
<rect x="440.86" y="442.60" width="7.86" height="4.61" fill="#a6e3e0"/>
<rect x="452.91" y="442.60" width="7.33" height="4.61" fill="#a6e3e0"/>
<rect x="462.34" y="442.60" width="10.48" height="4.61" fill="#a6e3e0"/>
<rect x="480.15" y="442.60" width="9.85" height="4.61" fill="#a6e3e0"/>
<rect x="434.57" y="447.20" width="3.67" height="4.61" fill="#a6e3e0"/>
<rect x="438.24" y="447.20" width="5.24" height="4.61" fill="#fadf96"/>
<rect x="443.48" y="447.20" width="5.24" height="4.61" fill="#a6e3e0"/>
<rect x="452.91" y="447.20" width="6.29" height="4.61" fill="#a6e3e0"/>
<rect x="463.39" y="447.20" width="11.53" height="4.61" fill="#a6e3e0"/>
<rect x="488.00" y="401.12" width="2.64" height="4.61" fill="#a6e3e0"/>
<rect x="493.27" y="401.12" width="5.27" height="4.61" fill="#a6e3e0"/>
<rect x="518.58" y="401.12" width="14.76" height="4.61" fill="#a6e3e0"/>
<rect x="536.51" y="401.12" width="1.58" height="4.61" fill="#fadf96"/>
<rect x="495.38" y="405.73" width="2.11" height="4.61" fill="#a6e3e0"/>
<rect x="500.65" y="405.73" width="1.58" height="4.61" fill="#a6e3e0"/>
<rect x="518.58" y="405.73" width="3.16" height="4.61" fill="#a6e3e0"/>
<rect x="522.80" y="405.73" width="10.55" height="4.61" fill="#a6e3e0"/>
<rect x="538.09" y="405.73" width="4.75" height="4.61" fill="#fadf96"/>
<rect x="518.58" y="410.34" width="2.11" height="4.61" fill="#a6e3e0"/>
<rect x="522.80" y="410.34" width="11.60" height="4.61" fill="#a6e3e0"/>
<rect x="502.76" y="414.95" width="1.05" height="4.61" fill="#a6e3e0"/>
<rect x="520.69" y="414.95" width="14.76" height="4.61" fill="#a6e3e0"/>
<rect x="535.98" y="414.95" width="2.11" height="4.61" fill="#fadf96"/>
<rect x="488.00" y="419.56" width="3.16" height="4.61" fill="#a6e3e0"/>
<rect x="494.33" y="419.56" width="4.22" height="4.61" fill="#a6e3e0"/>
<rect x="499.60" y="419.56" width="1.58" height="4.61" fill="#a6e3e0"/>
<rect x="503.82" y="419.56" width="16.87" height="4.61" fill="#a6e3e0"/>
<rect x="522.80" y="419.56" width="12.65" height="4.61" fill="#a6e3e0"/>
<rect x="542.83" y="419.56" width="1.58" height="4.61" fill="#fadf96"/>
<rect x="490.11" y="424.16" width="4.22" height="4.61" fill="#a6e3e0"/>
<rect x="496.44" y="424.16" width="3.16" height="4.61" fill="#a6e3e0"/>
<rect x="520.69" y="424.16" width="4.22" height="4.61" fill="#a6e3e0"/>
<rect x="524.91" y="424.16" width="1.05" height="4.61" fill="#fadf96"/>
<rect x="525.96" y="424.16" width="9.49" height="4.61" fill="#a6e3e0"/>
<rect x="536.51" y="424.16" width="6.33" height="4.61" fill="#fadf96"/>
<rect x="488.00" y="428.77" width="6.33" height="4.61" fill="#a6e3e0"/>
<rect x="497.49" y="428.77" width="5.27" height="4.61" fill="#a6e3e0"/>
<rect x="503.82" y="428.77" width="16.87" height="4.61" fill="#a6e3e0"/>
<rect x="520.69" y="428.77" width="15.82" height="4.61" fill="#a6e3e0"/>
<rect x="488.00" y="433.38" width="6.33" height="4.61" fill="#a6e3e0"/>
<rect x="503.82" y="433.38" width="16.87" height="4.61" fill="#a6e3e0"/>
<rect x="522.80" y="433.38" width="13.71" height="4.61" fill="#a6e3e0"/>
<rect x="488.00" y="437.99" width="5.27" height="4.61" fill="#a6e3e0"/>
<rect x="496.44" y="437.99" width="2.11" height="4.61" fill="#a6e3e0"/>
<rect x="517.53" y="437.99" width="17.93" height="4.61" fill="#a6e3e0"/>
<rect x="488.00" y="442.60" width="5.27" height="4.61" fill="#a6e3e0"/>
<rect x="497.49" y="442.60" width="3.16" height="4.61" fill="#a6e3e0"/>
<rect x="517.53" y="442.60" width="18.98" height="4.61" fill="#a6e3e0"/>
<rect x="536.51" y="442.60" width="1.05" height="4.61" fill="#fadf96"/>
<rect x="488.00" y="447.20" width="5.27" height="4.61" fill="#a6e3e0"/>
<rect x="499.60" y="447.20" width="3.16" height="4.61" fill="#a6e3e0"/>
<rect x="517.53" y="447.20" width="18.98" height="4.61" fill="#a6e3e0"/>
<rect x="536.51" y="447.20" width="1.05" height="4.61" fill="#fadf96"/>
<rect x="542.83" y="447.20" width="1.05" height="4.61" fill="#fadf96"/>
<rect x="434.30" y="396.52" width="55.70" height="55.30" fill="#62b0c6"/>
<rect x="435.17" y="396.52" width="1.09" height="4.61" fill="#fadf96"/>
<rect x="436.26" y="396.52" width="9.78" height="4.61" fill="#a6e3e0"/>
<rect x="447.13" y="396.52" width="14.89" height="4.61" fill="#a6e3e0"/>
<rect x="434.63" y="401.12" width="1.09" height="4.61" fill="#fadf96"/>
<rect x="435.72" y="401.12" width="2.17" height="4.61" fill="#a6e3e0"/>
<rect x="437.89" y="401.12" width="0.54" height="4.61" fill="#fadf96"/>
<rect x="438.43" y="401.12" width="10.87" height="4.61" fill="#a6e3e0"/>
<rect x="450.39" y="401.12" width="8.70" height="4.61" fill="#a6e3e0"/>
<rect x="460.17" y="401.12" width="1.85" height="4.61" fill="#a6e3e0"/>
<rect x="434.30" y="405.73" width="1.41" height="4.61" fill="#fadf96"/>
<rect x="436.80" y="405.73" width="12.50" height="4.61" fill="#a6e3e0"/>
<rect x="450.93" y="405.73" width="8.15" height="4.61" fill="#a6e3e0"/>
<rect x="460.17" y="405.73" width="1.85" height="4.61" fill="#a6e3e0"/>
<rect x="435.72" y="410.34" width="10.33" height="4.61" fill="#a6e3e0"/>
<rect x="447.67" y="410.34" width="1.63" height="4.61" fill="#a6e3e0"/>
<rect x="450.39" y="410.34" width="11.63" height="4.61" fill="#a6e3e0"/>
<rect x="434.30" y="414.95" width="1.41" height="4.61" fill="#fadf96"/>
<rect x="435.72" y="414.95" width="1.09" height="4.61" fill="#a6e3e0"/>
<rect x="436.80" y="414.95" width="1.09" height="4.61" fill="#fadf96"/>
<rect x="437.89" y="414.95" width="1.09" height="4.61" fill="#a6e3e0"/>
<rect x="444.41" y="414.95" width="6.52" height="4.61" fill="#a6e3e0"/>
<rect x="450.93" y="414.95" width="2.17" height="4.61" fill="#fadf96"/>
<rect x="453.11" y="414.95" width="8.91" height="4.61" fill="#a6e3e0"/>
<rect x="434.30" y="419.56" width="1.41" height="4.61" fill="#fadf96"/>
<rect x="444.96" y="419.56" width="1.09" height="4.61" fill="#a6e3e0"/>
<rect x="448.76" y="419.56" width="1.63" height="4.61" fill="#a6e3e0"/>
<rect x="453.11" y="419.56" width="1.63" height="4.61" fill="#a6e3e0"/>
<rect x="455.83" y="419.56" width="2.72" height="4.61" fill="#a6e3e0"/>
<rect x="434.30" y="424.16" width="1.41" height="4.61" fill="#a6e3e0"/>
<rect x="435.72" y="424.16" width="1.09" height="4.61" fill="#fadf96"/>
<rect x="436.80" y="424.16" width="6.52" height="4.61" fill="#a6e3e0"/>
<rect x="444.41" y="424.16" width="4.89" height="4.61" fill="#a6e3e0"/>
<rect x="450.39" y="424.16" width="11.63" height="4.61" fill="#a6e3e0"/>
<rect x="434.30" y="428.77" width="1.96" height="4.61" fill="#a6e3e0"/>
<rect x="437.35" y="428.77" width="3.26" height="4.61" fill="#fadf96"/>
<rect x="440.61" y="428.77" width="2.72" height="4.61" fill="#a6e3e0"/>
<rect x="444.96" y="428.77" width="1.09" height="4.61" fill="#a6e3e0"/>
<rect x="453.11" y="428.77" width="1.63" height="4.61" fill="#a6e3e0"/>
<rect x="455.83" y="428.77" width="6.20" height="4.61" fill="#a6e3e0"/>
<rect x="434.30" y="433.38" width="1.41" height="4.61" fill="#fadf96"/>
<rect x="435.72" y="433.38" width="3.26" height="4.61" fill="#a6e3e0"/>
<rect x="440.61" y="433.38" width="5.43" height="4.61" fill="#a6e3e0"/>
<rect x="446.04" y="433.38" width="3.26" height="4.61" fill="#fadf96"/>
<rect x="453.65" y="433.38" width="8.37" height="4.61" fill="#a6e3e0"/>
<rect x="434.30" y="437.99" width="1.96" height="4.61" fill="#a6e3e0"/>
<rect x="437.89" y="437.99" width="2.72" height="4.61" fill="#a6e3e0"/>
<rect x="443.87" y="437.99" width="5.43" height="4.61" fill="#a6e3e0"/>
<rect x="453.65" y="437.99" width="8.37" height="4.61" fill="#a6e3e0"/>
<rect x="435.17" y="442.60" width="1.63" height="4.61" fill="#fadf96"/>
<rect x="436.80" y="442.60" width="1.63" height="4.61" fill="#a6e3e0"/>
<rect x="438.43" y="442.60" width="2.72" height="4.61" fill="#fadf96"/>
<rect x="441.15" y="442.60" width="2.72" height="4.61" fill="#a6e3e0"/>
<rect x="445.50" y="442.60" width="3.80" height="4.61" fill="#a6e3e0"/>
<rect x="453.65" y="442.60" width="5.43" height="4.61" fill="#a6e3e0"/>
<rect x="434.30" y="447.20" width="4.13" height="4.61" fill="#a6e3e0"/>
<rect x="438.43" y="447.20" width="5.43" height="4.61" fill="#fadf96"/>
<rect x="443.87" y="447.20" width="5.43" height="4.61" fill="#a6e3e0"/>
<rect x="453.65" y="447.20" width="8.37" height="4.61" fill="#a6e3e0"/>
<rect x="461.00" y="396.52" width="9.78" height="4.61" fill="#a6e3e0"/>
<rect x="472.96" y="396.52" width="7.61" height="4.61" fill="#a6e3e0"/>
<rect x="461.00" y="401.12" width="10.33" height="4.61" fill="#a6e3e0"/>
<rect x="474.04" y="401.12" width="3.26" height="4.61" fill="#a6e3e0"/>
<rect x="480.57" y="401.12" width="2.17" height="4.61" fill="#a6e3e0"/>
<rect x="461.00" y="405.73" width="3.26" height="4.61" fill="#a6e3e0"/>
<rect x="465.35" y="405.73" width="5.98" height="4.61" fill="#a6e3e0"/>
<rect x="474.04" y="405.73" width="4.35" height="4.61" fill="#a6e3e0"/>
<rect x="486.00" y="405.73" width="2.17" height="4.61" fill="#a6e3e0"/>
<rect x="461.00" y="410.34" width="10.33" height="4.61" fill="#a6e3e0"/>
<rect x="473.50" y="410.34" width="1.63" height="4.61" fill="#a6e3e0"/>
<rect x="480.57" y="410.34" width="9.46" height="4.61" fill="#a6e3e0"/>
<rect x="461.00" y="414.95" width="11.96" height="4.61" fill="#a6e3e0"/>
<rect x="478.93" y="414.95" width="2.72" height="4.61" fill="#a6e3e0"/>
<rect x="486.00" y="414.95" width="4.02" height="4.61" fill="#a6e3e0"/>
<rect x="462.09" y="419.56" width="2.17" height="4.61" fill="#a6e3e0"/>
<rect x="465.89" y="419.56" width="2.17" height="4.61" fill="#a6e3e0"/>
<rect x="469.70" y="419.56" width="1.63" height="4.61" fill="#a6e3e0"/>
<rect x="481.65" y="419.56" width="3.26" height="4.61" fill="#fadf96"/>
<rect x="484.91" y="419.56" width="5.11" height="4.61" fill="#a6e3e0"/>
<rect x="461.00" y="424.16" width="9.78" height="4.61" fill="#a6e3e0"/>
<rect x="478.39" y="424.16" width="3.26" height="4.61" fill="#a6e3e0"/>
<rect x="482.74" y="424.16" width="3.26" height="4.61" fill="#a6e3e0"/>
<rect x="461.00" y="428.77" width="11.96" height="4.61" fill="#a6e3e0"/>
<rect x="477.30" y="428.77" width="3.80" height="4.61" fill="#a6e3e0"/>
<rect x="481.65" y="428.77" width="2.17" height="4.61" fill="#fadf96"/>
<rect x="483.83" y="428.77" width="6.20" height="4.61" fill="#a6e3e0"/>
<rect x="461.00" y="433.38" width="11.96" height="4.61" fill="#a6e3e0"/>
<rect x="475.13" y="433.38" width="5.43" height="4.61" fill="#a6e3e0"/>
<rect x="487.09" y="433.38" width="2.93" height="4.61" fill="#a6e3e0"/>
<rect x="461.00" y="437.99" width="10.87" height="4.61" fill="#a6e3e0"/>
<rect x="476.22" y="437.99" width="6.52" height="4.61" fill="#a6e3e0"/>
<rect x="483.28" y="437.99" width="1.63" height="4.61" fill="#fadf96"/>
<rect x="484.91" y="437.99" width="5.11" height="4.61" fill="#a6e3e0"/>
<rect x="461.00" y="442.60" width="10.33" height="4.61" fill="#a6e3e0"/>
<rect x="480.57" y="442.60" width="5.43" height="4.61" fill="#a6e3e0"/>
<rect x="464.26" y="447.20" width="7.61" height="4.61" fill="#a6e3e0"/>
<rect x="476.22" y="447.20" width="4.35" height="4.61" fill="#a6e3e0"/>
<rect x="484.91" y="447.20" width="5.11" height="4.61" fill="#a6e3e0"/>
<rect x="522.80" y="401.12" width="1.10" height="18.43" fill="#62b0c6"/>
<rect x="522.80" y="428.77" width="1.10" height="23.04" fill="#62b0c6"/>
<rect x="528.00" y="401.12" width="1.00" height="13.82" fill="#62b0c6"/>
<rect x="528.00" y="419.56" width="1.00" height="9.22" fill="#62b0c6"/>
<rect x="528.00" y="433.38" width="1.00" height="13.82" fill="#62b0c6"/>
<rect x="531.80" y="405.73" width="1.00" height="13.82" fill="#62b0c6"/>
<rect x="531.80" y="437.99" width="1.00" height="13.82" fill="#62b0c6"/>
</g>
<rect x="233.5" y="157.20000000000002" width="52.8" height="294.11" fill="none" stroke="#3f4b53" stroke-width="0.85"/>
<rect x="389.6" y="157.20000000000002" width="11.9" height="294.11" fill="none" stroke="#3f4b53" stroke-width="0.85"/>
<defs><linearGradient id="gA2" x1="0" y1="0" x2="1" y2="0"><stop offset="0" stop-color="#d3e8d9"/><stop offset="1" stop-color="#eef6f0"/></linearGradient><linearGradient id="gA3" x1="0" y1="0" x2="1" y2="0"><stop offset="0" stop-color="#a9d8e6"/><stop offset="1" stop-color="#e2f2f6"/></linearGradient><linearGradient id="gA6" x1="0" y1="0" x2="1" y2="0"><stop offset="0" stop-color="#d3d0f0"/><stop offset="1" stop-color="#d8d6f2"/></linearGradient><linearGradient id="gA4" x1="0" y1="0" x2="1" y2="0"><stop offset="0" stop-color="#f8c496"/><stop offset="1" stop-color="#f9cca6"/></linearGradient><linearGradient id="gA5" x1="0" y1="0" x2="1" y2="0"><stop offset="0" stop-color="#f8c6d0"/><stop offset="1" stop-color="#f9ccd6"/></linearGradient><linearGradient id="gA1" x1="0" y1="0" x2="1" y2="0"><stop offset="0" stop-color="#ffd646"/><stop offset="1" stop-color="#fff8e6"/></linearGradient><linearGradient id="gA7" x1="0" y1="0" x2="1" y2="0"><stop offset="0" stop-color="#cfcfcf"/><stop offset="1" stop-color="#f2f2f2"/></linearGradient></defs>
<rect x="46.2" y="156.80" width="39.3" height="27.74" fill="url(#gA2)"/>
<text x="48.10" y="172.72" font-size="5.7" fill="#2a2a2a" font-weight="bold" textLength="6.00" lengthAdjust="spacingAndGlyphs">A2</text>
<rect x="46.2" y="184.54" width="39.3" height="50.85" fill="url(#gA3)"/>
<text x="48.10" y="212.01" font-size="5.7" fill="#2a2a2a" font-weight="bold" textLength="6.00" lengthAdjust="spacingAndGlyphs">A3</text>
<rect x="46.2" y="235.39" width="39.3" height="9.25" fill="url(#gA6)"/>
<text x="48.10" y="242.06" font-size="5.7" fill="#2a2a2a" font-weight="bold" textLength="6.00" lengthAdjust="spacingAndGlyphs">A6</text>
<rect x="46.2" y="244.64" width="39.3" height="9.25" fill="url(#gA4)"/>
<text x="48.10" y="251.31" font-size="5.7" fill="#2a2a2a" font-weight="bold" textLength="6.00" lengthAdjust="spacingAndGlyphs">A4</text>
<rect x="46.2" y="253.88" width="39.3" height="9.25" fill="url(#gA5)"/>
<text x="48.10" y="260.56" font-size="5.7" fill="#2a2a2a" font-weight="bold" textLength="6.00" lengthAdjust="spacingAndGlyphs">A5</text>
<rect x="46.2" y="263.13" width="39.3" height="87.84" fill="url(#gA1)"/>
<text x="48.10" y="309.10" font-size="5.7" fill="#2a2a2a" font-weight="bold" textLength="5.60" lengthAdjust="spacingAndGlyphs">A1</text>
<rect x="46.2" y="350.97" width="39.3" height="101.71" fill="url(#gA7)"/>
<text x="48.10" y="403.87" font-size="5.7" fill="#2a2a2a" font-weight="bold" textLength="6.00" lengthAdjust="spacingAndGlyphs">A7</text>
<rect x="38" y="156.80" width="5.9" height="295.87" fill="#a3e3bd"/>
<rect x="38" y="179.92" width="5.9" height="4.62" fill="#f4877b"/>
<rect x="38" y="203.03" width="5.9" height="4.62" fill="#f4877b"/>
<rect x="38" y="235.39" width="5.9" height="4.62" fill="#f4877b"/>
<rect x="38" y="272.38" width="5.9" height="4.62" fill="#f4877b"/>
<rect x="38" y="277.00" width="5.9" height="4.62" fill="#f4877b"/>
<rect x="38" y="281.62" width="5.9" height="4.62" fill="#f4877b"/>
<rect x="38" y="286.24" width="5.9" height="4.62" fill="#f4877b"/>
<rect x="38" y="309.36" width="5.9" height="4.62" fill="#f4877b"/>
<rect x="38" y="323.23" width="5.9" height="4.62" fill="#f4877b"/>
<rect x="38" y="337.10" width="5.9" height="4.62" fill="#f4877b"/>
<rect x="38" y="341.72" width="5.9" height="4.62" fill="#f4877b"/>
<rect x="38" y="346.34" width="5.9" height="4.62" fill="#f4877b"/>
<rect x="38" y="364.84" width="5.9" height="4.62" fill="#f4877b"/>
<rect x="38" y="401.82" width="5.9" height="4.62" fill="#f4877b"/>
<text x="72.37" y="161.01" font-size="4.55" font-weight="bold" fill="#333" textLength="12.33" lengthAdjust="spacingAndGlyphs">ITRB9</text>
<text x="63.42" y="165.63" font-size="4.55" font-weight="bold" fill="#333" textLength="21.28" lengthAdjust="spacingAndGlyphs">NCIB 8687</text>
<text x="71.88" y="170.26" font-size="4.55" font-weight="bold" fill="#333" textLength="12.82" lengthAdjust="spacingAndGlyphs">JG191</text>
<text x="66.08" y="174.88" font-size="4.55" font-weight="bold" fill="#333" textLength="18.62" lengthAdjust="spacingAndGlyphs">UBA3878</text>
<text x="74.31" y="179.50" font-size="4.55" font-weight="bold" fill="#333" textLength="10.39" lengthAdjust="spacingAndGlyphs">HO-1</text>
<text x="73.82" y="184.13" font-size="4.55" font-weight="bold" fill="#333" textLength="10.88" lengthAdjust="spacingAndGlyphs">AN70</text>
<text x="70.92" y="188.75" font-size="4.55" font-weight="bold" fill="#333" textLength="13.78" lengthAdjust="spacingAndGlyphs">QD168</text>
<text x="75.27" y="193.37" font-size="4.55" font-weight="bold" fill="#333" textLength="9.43" lengthAdjust="spacingAndGlyphs">J481</text>
<text x="70.68" y="198.00" font-size="4.55" font-weight="bold" fill="#333" textLength="14.02" lengthAdjust="spacingAndGlyphs">BU33N</text>
<text x="71.88" y="202.62" font-size="4.55" font-weight="bold" fill="#333" textLength="12.82" lengthAdjust="spacingAndGlyphs">JG135</text>
<text x="77.44" y="207.24" font-size="4.55" font-weight="bold" fill="#333" textLength="7.26" lengthAdjust="spacingAndGlyphs">393</text>
<text x="74.55" y="211.86" font-size="4.55" font-weight="bold" fill="#333" textLength="10.15" lengthAdjust="spacingAndGlyphs">MMA</text>
<text x="66.08" y="216.49" font-size="4.55" font-weight="bold" fill="#333" textLength="18.62" lengthAdjust="spacingAndGlyphs">UBA7629</text>
<text x="66.08" y="221.11" font-size="4.55" font-weight="bold" fill="#333" textLength="18.62" lengthAdjust="spacingAndGlyphs">UBA3227</text>
<text x="68.27" y="225.73" font-size="4.55" font-weight="bold" fill="#333" textLength="16.43" lengthAdjust="spacingAndGlyphs">SMD-FA</text>
<text x="76.96" y="230.36" font-size="4.55" font-weight="bold" fill="#333" textLength="7.74" lengthAdjust="spacingAndGlyphs">A51</text>
<text x="63.66" y="234.98" font-size="4.55" font-weight="bold" fill="#333" textLength="21.04" lengthAdjust="spacingAndGlyphs">UBA10732</text>
<text x="59.79" y="239.60" font-size="4.55" font-weight="bold" fill="#333" textLength="24.91" lengthAdjust="spacingAndGlyphs">APW500_S1</text>
<text x="71.64" y="244.23" font-size="4.55" font-weight="bold" fill="#333" textLength="13.06" lengthAdjust="spacingAndGlyphs">Mc250</text>
<text x="61.73" y="248.85" font-size="4.55" font-weight="bold" fill="#333" textLength="22.97" lengthAdjust="spacingAndGlyphs">DSM 13975</text>
<text x="67.86" y="253.47" font-size="4.55" font-weight="bold" fill="#333" textLength="16.84" lengthAdjust="spacingAndGlyphs">SORT26</text>
<text x="59.55" y="258.09" font-size="4.55" font-weight="bold" fill="#333" textLength="25.15" lengthAdjust="spacingAndGlyphs">KCTC 42083</text>
<text x="63.98" y="262.72" font-size="4.55" font-weight="bold" fill="#333" textLength="20.72" lengthAdjust="spacingAndGlyphs">UBA11281</text>
<text x="72.13" y="267.34" font-size="4.55" font-weight="bold" fill="#333" textLength="12.57" lengthAdjust="spacingAndGlyphs">JLAF9</text>
<text x="60.28" y="271.96" font-size="4.55" font-weight="bold" fill="#333" textLength="24.42" lengthAdjust="spacingAndGlyphs">SCSIO 8001</text>
<text x="66.88" y="276.59" font-size="4.55" font-weight="bold" fill="#333" textLength="17.82" lengthAdjust="spacingAndGlyphs">NY11312</text>
<text x="74.54" y="281.21" font-size="4.55" font-weight="bold" fill="#333" textLength="10.16" lengthAdjust="spacingAndGlyphs">LK36</text>
<text x="70.68" y="285.83" font-size="4.55" font-weight="bold" fill="#333" textLength="14.02" lengthAdjust="spacingAndGlyphs">GZAF1</text>
<text x="76.96" y="290.46" font-size="4.55" font-weight="bold" fill="#333" textLength="7.74" lengthAdjust="spacingAndGlyphs">A21</text>
<text x="74.54" y="295.08" font-size="4.55" font-weight="bold" fill="#333" textLength="10.16" lengthAdjust="spacingAndGlyphs">P156</text>
<text x="56.16" y="299.70" font-size="4.55" font-weight="bold" fill="#333" textLength="28.54" lengthAdjust="spacingAndGlyphs">SRR10754060</text>
<text x="57.13" y="304.32" font-size="4.55" font-weight="bold" fill="#333" textLength="27.57" lengthAdjust="spacingAndGlyphs">CHK171-7552</text>
<text x="61.73" y="308.95" font-size="4.55" font-weight="bold" fill="#333" textLength="22.97" lengthAdjust="spacingAndGlyphs">DSM 30030</text>
<text x="70.68" y="313.57" font-size="4.55" font-weight="bold" fill="#333" textLength="14.02" lengthAdjust="spacingAndGlyphs">GZAF3</text>
<text x="74.30" y="318.19" font-size="4.55" font-weight="bold" fill="#333" textLength="10.40" lengthAdjust="spacingAndGlyphs">2D02</text>
<text x="76.00" y="322.82" font-size="4.55" font-weight="bold" fill="#333" textLength="8.70" lengthAdjust="spacingAndGlyphs">YBY</text>
<text x="58.59" y="327.44" font-size="4.55" font-weight="bold" fill="#333" textLength="26.11" lengthAdjust="spacingAndGlyphs">GMW315_S2</text>
<text x="73.58" y="332.06" font-size="4.55" font-weight="bold" fill="#333" textLength="11.12" lengthAdjust="spacingAndGlyphs">H2D1</text>
<text x="66.08" y="336.69" font-size="4.55" font-weight="bold" fill="#333" textLength="18.62" lengthAdjust="spacingAndGlyphs">UBA7622</text>
<text x="70.20" y="341.31" font-size="4.55" font-weight="bold" fill="#333" textLength="14.50" lengthAdjust="spacingAndGlyphs">MUB14</text>
<text x="56.16" y="345.93" font-size="4.55" font-weight="bold" fill="#333" textLength="28.54" lengthAdjust="spacingAndGlyphs">2021EL-00128</text>
<text x="70.68" y="350.55" font-size="4.55" font-weight="bold" fill="#333" textLength="14.02" lengthAdjust="spacingAndGlyphs">AF 174</text>
<text x="77.21" y="355.18" font-size="4.55" font-weight="bold" fill="#333" textLength="7.49" lengthAdjust="spacingAndGlyphs">13F</text>
<text x="73.58" y="359.80" font-size="4.55" font-weight="bold" fill="#333" textLength="11.12" lengthAdjust="spacingAndGlyphs">BO84</text>
<text x="66.08" y="364.42" font-size="4.55" font-weight="bold" fill="#333" textLength="18.62" lengthAdjust="spacingAndGlyphs">UBA7605</text>
<text x="69.47" y="369.05" font-size="4.55" font-weight="bold" fill="#333" textLength="15.23" lengthAdjust="spacingAndGlyphs">AF0001</text>
<text x="61.73" y="373.67" font-size="4.55" font-weight="bold" fill="#333" textLength="22.97" lengthAdjust="spacingAndGlyphs">DSM 16503</text>
<text x="72.61" y="378.29" font-size="4.55" font-weight="bold" fill="#333" textLength="12.09" lengthAdjust="spacingAndGlyphs">JF101</text>
<text x="69.71" y="382.92" font-size="4.55" font-weight="bold" fill="#333" textLength="14.99" lengthAdjust="spacingAndGlyphs">NLFS-7</text>
<text x="58.58" y="387.54" font-size="4.55" font-weight="bold" fill="#333" textLength="26.12" lengthAdjust="spacingAndGlyphs">SRR1763383</text>
<text x="65.60" y="392.16" font-size="4.55" font-weight="bold" fill="#333" textLength="19.10" lengthAdjust="spacingAndGlyphs">EGD-AK7</text>
<text x="75.19" y="396.78" font-size="4.55" font-weight="bold" fill="#333" textLength="9.51" lengthAdjust="spacingAndGlyphs">DY-8</text>
<text x="73.82" y="401.41" font-size="4.55" font-weight="bold" fill="#333" textLength="10.88" lengthAdjust="spacingAndGlyphs">AU24</text>
<text x="60.52" y="406.03" font-size="4.55" font-weight="bold" fill="#333" textLength="24.18" lengthAdjust="spacingAndGlyphs">NCTC10388</text>
<text x="79.38" y="410.65" font-size="4.55" font-weight="bold" fill="#333" textLength="5.32" lengthAdjust="spacingAndGlyphs">S1</text>
<text x="77.69" y="415.28" font-size="4.55" font-weight="bold" fill="#333" textLength="7.01" lengthAdjust="spacingAndGlyphs">c16</text>
<text x="65.84" y="419.90" font-size="4.55" font-weight="bold" fill="#333" textLength="18.86" lengthAdjust="spacingAndGlyphs">NBIB-017</text>
<text x="72.85" y="424.52" font-size="4.55" font-weight="bold" fill="#333" textLength="11.85" lengthAdjust="spacingAndGlyphs">PSM8</text>
<text x="77.21" y="429.15" font-size="4.55" font-weight="bold" fill="#333" textLength="7.49" lengthAdjust="spacingAndGlyphs">T17</text>
<text x="74.30" y="433.77" font-size="4.55" font-weight="bold" fill="#333" textLength="10.40" lengthAdjust="spacingAndGlyphs">D334</text>
<text x="70.92" y="438.39" font-size="4.55" font-weight="bold" fill="#333" textLength="13.78" lengthAdjust="spacingAndGlyphs">MB207</text>
<text x="69.71" y="443.01" font-size="4.55" font-weight="bold" fill="#333" textLength="14.99" lengthAdjust="spacingAndGlyphs">MOR02</text>
<text x="72.13" y="447.64" font-size="4.55" font-weight="bold" fill="#333" textLength="12.57" lengthAdjust="spacingAndGlyphs">A-TC2</text>
<text x="65.59" y="452.26" font-size="4.55" font-weight="bold" fill="#333" textLength="19.11" lengthAdjust="spacingAndGlyphs">1735sua3</text>
<path d="M17.90,168.40L17.90,239.00M17.90,168.40L35.30,168.40M17.90,239.00L23.10,239.00M35.30,158.11L35.30,182.23M35.30,159.11L36.60,159.11M35.30,163.73L36.60,163.73M35.30,168.36L36.60,168.36M35.30,172.98L36.60,172.98M35.30,177.60L36.60,177.60M35.30,182.23L36.60,182.23M23.10,191.50L23.10,285.40M23.10,191.50L30.70,191.50M30.70,186.35L30.70,191.50M30.70,186.85L36.60,186.85M30.70,186.85L30.70,191.47M31.06,191.47L36.60,191.47M31.06,191.47L31.06,196.10M31.42,196.10L36.60,196.10M31.42,196.10L31.42,200.72M31.78,200.72L36.60,200.72M31.78,200.72L31.78,205.34M32.14,205.34L36.60,205.34M32.14,205.34L32.14,209.96M32.50,209.96L36.60,209.96M32.50,209.96L32.50,214.59M32.86,214.59L36.60,214.59M32.86,214.59L32.86,219.21M33.22,219.21L36.60,219.21M33.22,219.21L33.22,223.83M33.58,223.83L36.60,223.83M33.58,223.83L33.58,228.46M33.94,228.46L36.60,228.46M33.94,228.46L33.94,233.08M34.30,233.08L36.60,233.08M23.10,240.40L25.90,240.40M25.90,240.40L25.90,252.90M25.90,240.40L33.50,240.40M33.50,237.70L33.50,242.33M33.50,237.70L36.60,237.70M33.50,242.33L36.60,242.33M25.90,252.90L29.30,252.90M29.30,248.70L29.30,258.40M29.30,248.70L34.90,248.70M34.90,246.95L34.90,251.57M34.90,246.95L36.60,246.95M34.90,251.57L36.60,251.57M29.30,258.40L35.60,258.40M35.60,256.19L35.60,260.82M35.60,256.19L36.60,256.19M35.60,260.82L36.60,260.82M23.10,285.40L25.90,285.40M25.90,283.40L25.90,365.40M25.30,286.00L25.30,324.00M25.90,283.40L31.40,283.40M31.40,265.44L31.40,283.40M31.40,265.44L36.60,265.44M31.40,265.44L31.40,270.06M31.40,270.06L31.58,270.06M31.58,270.06L36.60,270.06M31.58,270.06L31.58,274.69M31.58,274.69L31.76,274.69M31.76,274.69L36.60,274.69M31.76,274.69L31.76,279.31M31.76,279.31L31.93,279.31M31.93,279.31L36.60,279.31M31.93,279.31L31.93,283.93M31.93,283.93L32.11,283.93M32.11,283.93L36.60,283.93M32.11,283.93L32.11,288.56M32.11,288.56L32.29,288.56M32.29,288.56L36.60,288.56M32.29,288.56L32.29,293.18M32.29,293.18L32.47,293.18M32.47,293.18L36.60,293.18M32.47,297.80L32.64,297.80M32.64,297.80L36.60,297.80M32.64,302.42L32.82,302.42M32.82,302.42L36.60,302.42M32.82,307.05L33.00,307.05M33.00,307.05L36.60,307.05M33.00,311.67L33.18,311.67M33.18,311.67L36.60,311.67M33.18,316.29L33.36,316.29M33.36,316.29L36.60,316.29M33.36,320.92L33.53,320.92M33.53,320.92L36.60,320.92M33.53,325.54L33.71,325.54M33.71,325.54L36.60,325.54M33.71,330.16L33.89,330.16M33.89,330.16L36.60,330.16M33.89,334.79L34.07,334.79M34.07,334.79L36.60,334.79M34.07,339.41L34.24,339.41M34.24,339.41L36.60,339.41M34.24,344.03L34.42,344.03M34.42,344.03L36.60,344.03M34.42,348.65L34.60,348.65M34.60,348.65L36.60,348.65M25.90,365.40L30.20,365.40M30.20,357.00L30.20,377.00M30.20,357.00L33.60,357.00M33.60,353.28L33.60,357.90M33.60,353.28L36.60,353.28M33.60,357.90L36.60,357.90M30.20,377.00L32.40,377.00M32.40,362.52L32.40,390.26M32.40,390.26L33.40,390.26M32.40,362.52L36.60,362.52M32.40,367.15L36.60,367.15M32.40,371.77L36.60,371.77M32.40,376.39L36.60,376.39M32.40,381.02L36.60,381.02M32.40,385.64L36.60,385.64M33.40,390.26L36.60,390.26M33.40,394.88L36.60,394.88M33.40,399.51L36.60,399.51M33.40,404.13L36.60,404.13M33.40,408.75L36.60,408.75M33.40,413.38L36.60,413.38M33.40,418.00L36.60,418.00M33.40,422.62L36.60,422.62M33.40,427.25L36.60,427.25M33.40,431.87L36.60,431.87M33.40,436.49L36.60,436.49M33.40,441.11L36.60,441.11M33.40,445.74L36.60,445.74M33.40,450.36L36.60,450.36" fill="none" stroke="#222" stroke-width="0.62"/>
<path d="M32.47,293.18L32.47,297.80M32.64,297.80L32.64,302.42M32.82,302.42L32.82,307.05M33.00,307.05L33.00,311.67M33.18,311.67L33.18,316.29M33.36,316.29L33.36,320.92M33.53,320.92L33.53,325.54M33.71,325.54L33.71,330.16M33.89,330.16L33.89,334.79M34.07,334.79L34.07,339.41M34.24,339.41L34.24,344.03M34.42,344.03L34.42,348.65M33.40,390.26L33.40,450.36" fill="none" stroke="#222" stroke-width="0.9"/>
<rect x="37.6" y="464" width="199.9" height="38" fill="#fff" stroke="#d4d4d4" stroke-width="0.7"/>
<text x="44.40" y="473.90" font-size="7.8" fill="#222" font-weight="bold" textLength="45.60" lengthAdjust="spacingAndGlyphs">Environment</text>
<rect x="44.4" y="481" width="6.6" height="6.2" fill="#f4877b"/>
<rect x="44.4" y="490.6" width="6.6" height="6.2" fill="#a3e3bd"/>
<text x="55.00" y="486.60" font-size="6.7" fill="#333" stroke="#333" stroke-width="0.16" textLength="19.00" lengthAdjust="spacingAndGlyphs">Clinical</text>
<text x="55.00" y="496.20" font-size="6.7" fill="#333" stroke="#333" stroke-width="0.16" textLength="32.00" lengthAdjust="spacingAndGlyphs">Non-clinical</text>
<text x="122.80" y="473.90" font-size="7.8" fill="#222" font-weight="bold" textLength="22.00" lengthAdjust="spacingAndGlyphs">Genes</text>
<rect x="123.5" y="481" width="7.1" height="6.5" fill="#4f9ab5"/>
<rect x="123.5" y="490.4" width="7.1" height="6.5" fill="#a6e3e0"/>
<rect x="168.5" y="481" width="7.1" height="6.5" fill="#f6df9a"/>
<text x="133.00" y="486.80" font-size="6.7" fill="#333" stroke="#333" stroke-width="0.16" textLength="23.60" lengthAdjust="spacingAndGlyphs">Absence</text>
<text x="133.00" y="496.20" font-size="6.7" fill="#333" stroke="#333" stroke-width="0.16" textLength="26.00" lengthAdjust="spacingAndGlyphs">Presence</text>
<text x="177.90" y="486.80" font-size="6.7" fill="#333" stroke="#333" stroke-width="0.16" textLength="36.70" lengthAdjust="spacingAndGlyphs">Present in GI</text>
</svg></div></body></html>
